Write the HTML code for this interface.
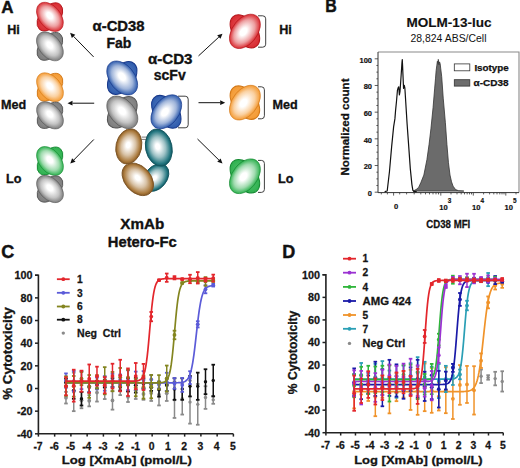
<!DOCTYPE html>
<html><head><meta charset="utf-8"><style>
html,body{margin:0;padding:0;background:#fff;width:520px;height:468px;overflow:hidden}
svg{display:block}
text{font-family:"Liberation Sans", sans-serif}
</style></head><body>
<svg width="520" height="468" viewBox="0 0 520 468">
<defs><radialGradient id="f_red" cx="50%" cy="50%" r="50%" fx="46%" fy="46%"><stop offset="0" stop-color="#fff"/><stop offset="0.22" stop-color="#fff"/><stop offset="0.68" stop-color="#ed9fa1"/><stop offset="1" stop-color="#d92a30"/></radialGradient><radialGradient id="e_red" cx="50%" cy="50%" r="50%" fx="46%" fy="46%"><stop offset="0" stop-color="#fff"/><stop offset="0.15" stop-color="#fff"/><stop offset="0.55" stop-color="#ed9fa1"/><stop offset="0.88" stop-color="#d92a30"/><stop offset="1" stop-color="#b3161c"/></radialGradient><radialGradient id="b_red" cx="50%" cy="50%" r="50%"><stop offset="0" stop-color="#e4696e"/><stop offset="1" stop-color="#d92a30"/></radialGradient><radialGradient id="f_gray" cx="50%" cy="50%" r="50%" fx="46%" fy="46%"><stop offset="0" stop-color="#fff"/><stop offset="0.22" stop-color="#fff"/><stop offset="0.68" stop-color="#c4c4c4"/><stop offset="1" stop-color="#7d7d7d"/></radialGradient><radialGradient id="e_gray" cx="50%" cy="50%" r="50%" fx="46%" fy="46%"><stop offset="0" stop-color="#fff"/><stop offset="0.15" stop-color="#fff"/><stop offset="0.55" stop-color="#c4c4c4"/><stop offset="0.88" stop-color="#7d7d7d"/><stop offset="1" stop-color="#555555"/></radialGradient><radialGradient id="b_gray" cx="50%" cy="50%" r="50%"><stop offset="0" stop-color="#a4a4a4"/><stop offset="1" stop-color="#7d7d7d"/></radialGradient><radialGradient id="f_orange" cx="50%" cy="50%" r="50%" fx="46%" fy="46%"><stop offset="0" stop-color="#fff"/><stop offset="0.22" stop-color="#fff"/><stop offset="0.68" stop-color="#fad1a2"/><stop offset="1" stop-color="#f49a32"/></radialGradient><radialGradient id="e_orange" cx="50%" cy="50%" r="50%" fx="46%" fy="46%"><stop offset="0" stop-color="#fff"/><stop offset="0.15" stop-color="#fff"/><stop offset="0.55" stop-color="#fad1a2"/><stop offset="0.88" stop-color="#f49a32"/><stop offset="1" stop-color="#d27818"/></radialGradient><radialGradient id="b_orange" cx="50%" cy="50%" r="50%"><stop offset="0" stop-color="#f7b86f"/><stop offset="1" stop-color="#f49a32"/></radialGradient><radialGradient id="f_green" cx="50%" cy="50%" r="50%" fx="46%" fy="46%"><stop offset="0" stop-color="#fff"/><stop offset="0.22" stop-color="#fff"/><stop offset="0.68" stop-color="#a0dbaf"/><stop offset="1" stop-color="#2db14e"/></radialGradient><radialGradient id="e_green" cx="50%" cy="50%" r="50%" fx="46%" fy="46%"><stop offset="0" stop-color="#fff"/><stop offset="0.15" stop-color="#fff"/><stop offset="0.55" stop-color="#a0dbaf"/><stop offset="0.88" stop-color="#2db14e"/><stop offset="1" stop-color="#178a34"/></radialGradient><radialGradient id="b_green" cx="50%" cy="50%" r="50%"><stop offset="0" stop-color="#6cc883"/><stop offset="1" stop-color="#2db14e"/></radialGradient><radialGradient id="f_blue" cx="50%" cy="50%" r="50%" fx="46%" fy="46%"><stop offset="0" stop-color="#fff"/><stop offset="0.22" stop-color="#fff"/><stop offset="0.68" stop-color="#a0b5da"/><stop offset="1" stop-color="#2d5bad"/></radialGradient><radialGradient id="e_blue" cx="50%" cy="50%" r="50%" fx="46%" fy="46%"><stop offset="0" stop-color="#fff"/><stop offset="0.15" stop-color="#fff"/><stop offset="0.55" stop-color="#a0b5da"/><stop offset="0.88" stop-color="#2d5bad"/><stop offset="1" stop-color="#18388a"/></radialGradient><radialGradient id="b_blue" cx="50%" cy="50%" r="50%"><stop offset="0" stop-color="#6c8cc5"/><stop offset="1" stop-color="#2d5bad"/></radialGradient><radialGradient id="f_brown" cx="50%" cy="50%" r="50%" fx="46%" fy="46%"><stop offset="0" stop-color="#fff"/><stop offset="0.22" stop-color="#fff"/><stop offset="0.68" stop-color="#d8c2a6"/><stop offset="1" stop-color="#a9783a"/></radialGradient><radialGradient id="e_brown" cx="50%" cy="50%" r="50%" fx="46%" fy="46%"><stop offset="0" stop-color="#fff"/><stop offset="0.15" stop-color="#fff"/><stop offset="0.55" stop-color="#d8c2a6"/><stop offset="0.88" stop-color="#a9783a"/><stop offset="1" stop-color="#7f5626"/></radialGradient><radialGradient id="b_brown" cx="50%" cy="50%" r="50%"><stop offset="0" stop-color="#c2a075"/><stop offset="1" stop-color="#a9783a"/></radialGradient><radialGradient id="f_teal" cx="50%" cy="50%" r="50%" fx="46%" fy="46%"><stop offset="0" stop-color="#fff"/><stop offset="0.22" stop-color="#fff"/><stop offset="0.68" stop-color="#9cc1c5"/><stop offset="1" stop-color="#237680"/></radialGradient><radialGradient id="e_teal" cx="50%" cy="50%" r="50%" fx="46%" fy="46%"><stop offset="0" stop-color="#fff"/><stop offset="0.15" stop-color="#fff"/><stop offset="0.55" stop-color="#9cc1c5"/><stop offset="0.88" stop-color="#237680"/><stop offset="1" stop-color="#135660"/></radialGradient><radialGradient id="b_teal" cx="50%" cy="50%" r="50%"><stop offset="0" stop-color="#659fa6"/><stop offset="1" stop-color="#237680"/></radialGradient></defs>
<rect width="520" height="468" fill="#fff"/>
<text x="1.2" y="12.6" font-size="17" font-weight="bold" text-anchor="start" fill="#111" stroke="#111" stroke-width="0.43" >A</text>
<text x="7.2" y="34.2" font-size="12.6" font-weight="bold" text-anchor="start" fill="#111" stroke="#111" stroke-width="0.32" >Hi</text>
<text x="1.0" y="108.8" font-size="12.6" font-weight="bold" text-anchor="start" fill="#111" stroke="#111" stroke-width="0.32" >Med</text>
<text x="6.0" y="182.5" font-size="12.6" font-weight="bold" text-anchor="start" fill="#111" stroke="#111" stroke-width="0.32" >Lo</text>
<text x="279.2" y="34.2" font-size="12.6" font-weight="bold" text-anchor="start" fill="#111" stroke="#111" stroke-width="0.32" >Hi</text>
<text x="272.4" y="108.9" font-size="12.6" font-weight="bold" text-anchor="start" fill="#111" stroke="#111" stroke-width="0.32" >Med</text>
<text x="278.0" y="182.5" font-size="12.6" font-weight="bold" text-anchor="start" fill="#111" stroke="#111" stroke-width="0.32" >Lo</text>
<text x="92.6" y="31.2" font-size="14" font-weight="bold" text-anchor="start" fill="#111" stroke="#111" stroke-width="0.35" textLength="52" lengthAdjust="spacingAndGlyphs" >&#945;-CD38</text>
<text x="106.5" y="48.1" font-size="14" font-weight="bold" text-anchor="start" fill="#111" stroke="#111" stroke-width="0.35" >Fab</text>
<text x="148.0" y="64.2" font-size="14" font-weight="bold" text-anchor="start" fill="#111" stroke="#111" stroke-width="0.35" textLength="44.5" lengthAdjust="spacingAndGlyphs" >&#945;-CD3</text>
<text x="153.8" y="80.4" font-size="14" font-weight="bold" text-anchor="start" fill="#111" stroke="#111" stroke-width="0.35" >scFv</text>
<text x="120.3" y="228.8" font-size="15.2" font-weight="bold" text-anchor="start" fill="#111" stroke="#111" stroke-width="0.38" >XmAb</text>
<text x="107.8" y="247.1" font-size="15.2" font-weight="bold" text-anchor="start" fill="#111" stroke="#111" stroke-width="0.38" textLength="69" lengthAdjust="spacingAndGlyphs" >Hetero-Fc</text>
<g transform="translate(49.9,16.9) scale(0.972,1.016)">
<ellipse rx="16.2" ry="10.2" transform="rotate(-48)" fill="url(#b_red)" stroke="#b3161c" stroke-width="0.9"/>
<ellipse rx="16.6" ry="11.0" transform="rotate(48)" fill="url(#f_red)" stroke="#b3161c" stroke-width="0.7" stroke-opacity="0.8"/>
</g>
<g transform="translate(49.9,46.35) scale(0.972,1.006)">
<ellipse rx="16.2" ry="10.2" transform="rotate(-48)" fill="url(#b_gray)" stroke="#555555" stroke-width="0.9"/>
<ellipse rx="16.6" ry="11.0" transform="rotate(48)" fill="url(#f_gray)" stroke="#555555" stroke-width="0.7" stroke-opacity="0.8"/>
</g>
<g transform="translate(50.0,87.25) scale(0.972,1.006)">
<ellipse rx="16.2" ry="10.2" transform="rotate(-48)" fill="url(#b_orange)" stroke="#d27818" stroke-width="0.9"/>
<ellipse rx="16.6" ry="11.0" transform="rotate(48)" fill="url(#f_orange)" stroke="#d27818" stroke-width="0.7" stroke-opacity="0.8"/>
</g>
<g transform="translate(50.0,115.3) scale(0.972,0.947)">
<ellipse rx="16.2" ry="10.2" transform="rotate(-48)" fill="url(#b_gray)" stroke="#555555" stroke-width="0.9"/>
<ellipse rx="16.6" ry="11.0" transform="rotate(48)" fill="url(#f_gray)" stroke="#555555" stroke-width="0.7" stroke-opacity="0.8"/>
</g>
<g transform="translate(50.0,161.0) scale(0.972,1.006)">
<ellipse rx="16.2" ry="10.2" transform="rotate(-48)" fill="url(#b_green)" stroke="#178a34" stroke-width="0.9"/>
<ellipse rx="16.6" ry="11.0" transform="rotate(48)" fill="url(#f_green)" stroke="#178a34" stroke-width="0.7" stroke-opacity="0.8"/>
</g>
<g transform="translate(50.0,189.0) scale(0.972,0.947)">
<ellipse rx="16.2" ry="10.2" transform="rotate(-48)" fill="url(#b_gray)" stroke="#555555" stroke-width="0.9"/>
<ellipse rx="16.6" ry="11.0" transform="rotate(48)" fill="url(#f_gray)" stroke="#555555" stroke-width="0.7" stroke-opacity="0.8"/>
</g>
<line x1="93.6" y1="56.9" x2="73.59" y2="36.38" stroke="#111" stroke-width="1"/>
<polygon points="70.1,32.8 75.31,34.70 71.87,38.06" fill="#111"/>
<line x1="94.2" y1="103.2" x2="72.50" y2="103.20" stroke="#111" stroke-width="1"/>
<polygon points="67.5,103.2 72.50,100.80 72.50,105.60" fill="#111"/>
<line x1="93.8" y1="139.5" x2="73.79" y2="160.02" stroke="#111" stroke-width="1"/>
<polygon points="70.3,163.6 72.07,158.34 75.51,161.70" fill="#111"/>
<line x1="198.5" y1="55.9" x2="218.83" y2="37.10" stroke="#111" stroke-width="1"/>
<polygon points="222.5,33.7 220.46,38.86 217.20,35.33" fill="#111"/>
<line x1="198.5" y1="102.7" x2="220.20" y2="102.70" stroke="#111" stroke-width="1"/>
<polygon points="225.2,102.7 220.20,105.10 220.20,100.30" fill="#111"/>
<line x1="197.5" y1="139" x2="218.94" y2="160.09" stroke="#111" stroke-width="1"/>
<polygon points="222.5,163.6 217.25,161.80 220.62,158.38" fill="#111"/>
<ellipse cx="0" cy="0" rx="15.5" ry="11" transform="translate(155.8,177.6) rotate(-50)" fill="url(#e_teal)" stroke="#135660" stroke-width="0.9"/>
<ellipse cx="0" cy="0" rx="18.5" ry="13" transform="translate(137.8,179.3) rotate(48)" fill="url(#e_brown)" stroke="#7f5626" stroke-width="0.9"/>
<ellipse cx="0" cy="0" rx="13.2" ry="18.8" transform="translate(158.8,147.6) rotate(-12)" fill="url(#e_teal)" stroke="#135660" stroke-width="0.9"/>
<ellipse cx="0" cy="0" rx="12.8" ry="17.8" transform="translate(128.8,146.4) rotate(12)" fill="url(#e_brown)" stroke="#7f5626" stroke-width="0.9"/>
<line x1="141.5" y1="137.1" x2="146.4" y2="137.1" stroke="#444" stroke-width="0.7"/>
<line x1="141.5" y1="139.4" x2="146.4" y2="139.4" stroke="#444" stroke-width="0.7"/>
<g transform="translate(122.3,112.3) scale(1.124,1.131)">
<ellipse rx="16.2" ry="10.2" transform="rotate(-48)" fill="url(#b_gray)" stroke="#555555" stroke-width="0.9"/>
<ellipse rx="16.6" ry="11.0" transform="rotate(48)" fill="url(#f_gray)" stroke="#555555" stroke-width="0.7" stroke-opacity="0.8"/>
</g>
<g transform="translate(122.2,78.0) scale(1.117,1.183)">
<ellipse rx="16.2" ry="10.2" transform="rotate(-48)" fill="url(#b_blue)" stroke="#18388a" stroke-width="0.9"/>
<ellipse rx="16.6" ry="11.0" transform="rotate(48)" fill="url(#f_blue)" stroke="#18388a" stroke-width="0.7" stroke-opacity="0.8"/>
</g>
<path d="M178,96.2 L185.2,96.2 Q188.2,96.2 188.2,99.2 L188.2,124.8 Q188.2,127.8 185.2,127.8 L178,127.8" fill="none" stroke="#2a2a2a" stroke-width="0.9"/>
<g transform="translate(166.3,111.8) scale(1.113,1.183)">
<ellipse rx="16.2" ry="10.2" transform="rotate(48)" fill="url(#b_blue)" stroke="#18388a" stroke-width="0.9"/>
<ellipse rx="16.6" ry="11.0" transform="rotate(-48)" fill="url(#f_blue)" stroke="#18388a" stroke-width="0.7" stroke-opacity="0.8"/>
</g>
<path d="M258,15.8 L262.7,15.8 Q265.7,15.8 265.7,18.8 L265.7,44.2 Q265.7,47.2 262.7,47.2 L258,47.2" fill="none" stroke="#2a2a2a" stroke-width="0.9"/>
<g transform="translate(244.9,31.35) scale(1.117,1.194)">
<ellipse rx="16.2" ry="10.2" transform="rotate(48)" fill="url(#b_red)" stroke="#b3161c" stroke-width="0.9"/>
<ellipse rx="16.6" ry="11.0" transform="rotate(-48)" fill="url(#f_red)" stroke="#b3161c" stroke-width="0.7" stroke-opacity="0.8"/>
</g>
<path d="M258,86.8 L261.4,86.8 Q264.4,86.8 264.4,89.8 L264.4,115.8 Q264.4,118.8 261.4,118.8 L258,118.8" fill="none" stroke="#2a2a2a" stroke-width="0.9"/>
<g transform="translate(244.9,102.65) scale(1.117,1.208)">
<ellipse rx="16.2" ry="10.2" transform="rotate(48)" fill="url(#b_orange)" stroke="#d27818" stroke-width="0.9"/>
<ellipse rx="16.6" ry="11.0" transform="rotate(-48)" fill="url(#f_orange)" stroke="#d27818" stroke-width="0.7" stroke-opacity="0.8"/>
</g>
<path d="M258,160.4 L261.4,160.4 Q264.4,160.4 264.4,163.4 L264.4,189.4 Q264.4,192.4 261.4,192.4 L258,192.4" fill="none" stroke="#2a2a2a" stroke-width="0.9"/>
<g transform="translate(244.9,176.25) scale(1.117,1.208)">
<ellipse rx="16.2" ry="10.2" transform="rotate(48)" fill="url(#b_green)" stroke="#178a34" stroke-width="0.9"/>
<ellipse rx="16.6" ry="11.0" transform="rotate(-48)" fill="url(#f_green)" stroke="#178a34" stroke-width="0.7" stroke-opacity="0.8"/>
</g>
<text x="325.2" y="12.2" font-size="17.5" font-weight="bold" text-anchor="start" fill="#111" stroke="#111" stroke-width="0.44" textLength="11.5" lengthAdjust="spacingAndGlyphs" >B</text>
<text x="406.5" y="27.3" font-size="13.5" font-weight="bold" text-anchor="start" fill="#111" stroke="#111" stroke-width="0.15" textLength="85" lengthAdjust="spacingAndGlyphs" >MOLM-13-luc</text>
<text x="410.5" y="41.8" font-size="11" font-weight="normal" text-anchor="start" fill="#111" textLength="76" lengthAdjust="spacingAndGlyphs" >28,824 ABS/Cell</text>
<path d="M378,52 L519,52 L519,192.6" fill="none" stroke="#8a8a8a" stroke-width="1.1"/>
<path d="M378,52 L378,192.6 L519,192.6" fill="none" stroke="#333" stroke-width="1"/>
<line x1="374.7" y1="192.20" x2="378" y2="192.20" stroke="#333" stroke-width="0.8"/>
<text x="372.0" y="195.89999999999998" font-size="7.5" font-weight="bold" text-anchor="end" fill="#111" stroke="#111" stroke-width="0.19" >0</text>
<line x1="376.4" y1="185.53" x2="378" y2="185.53" stroke="#333" stroke-width="0.8"/>
<line x1="376.4" y1="178.86" x2="378" y2="178.86" stroke="#333" stroke-width="0.8"/>
<line x1="376.4" y1="172.19" x2="378" y2="172.19" stroke="#333" stroke-width="0.8"/>
<line x1="374.7" y1="165.52" x2="378" y2="165.52" stroke="#333" stroke-width="0.8"/>
<text x="372.0" y="169.21999999999997" font-size="7.5" font-weight="bold" text-anchor="end" fill="#111" stroke="#111" stroke-width="0.19" >20</text>
<line x1="376.4" y1="158.85" x2="378" y2="158.85" stroke="#333" stroke-width="0.8"/>
<line x1="376.4" y1="152.18" x2="378" y2="152.18" stroke="#333" stroke-width="0.8"/>
<line x1="376.4" y1="145.51" x2="378" y2="145.51" stroke="#333" stroke-width="0.8"/>
<line x1="374.7" y1="138.84" x2="378" y2="138.84" stroke="#333" stroke-width="0.8"/>
<text x="372.0" y="142.54" font-size="7.5" font-weight="bold" text-anchor="end" fill="#111" stroke="#111" stroke-width="0.19" >40</text>
<line x1="376.4" y1="132.17" x2="378" y2="132.17" stroke="#333" stroke-width="0.8"/>
<line x1="376.4" y1="125.50" x2="378" y2="125.50" stroke="#333" stroke-width="0.8"/>
<line x1="376.4" y1="118.83" x2="378" y2="118.83" stroke="#333" stroke-width="0.8"/>
<line x1="374.7" y1="112.16" x2="378" y2="112.16" stroke="#333" stroke-width="0.8"/>
<text x="372.0" y="115.86" font-size="7.5" font-weight="bold" text-anchor="end" fill="#111" stroke="#111" stroke-width="0.19" >60</text>
<line x1="376.4" y1="105.49" x2="378" y2="105.49" stroke="#333" stroke-width="0.8"/>
<line x1="376.4" y1="98.82" x2="378" y2="98.82" stroke="#333" stroke-width="0.8"/>
<line x1="376.4" y1="92.15" x2="378" y2="92.15" stroke="#333" stroke-width="0.8"/>
<line x1="374.7" y1="85.48" x2="378" y2="85.48" stroke="#333" stroke-width="0.8"/>
<text x="372.0" y="89.18" font-size="7.5" font-weight="bold" text-anchor="end" fill="#111" stroke="#111" stroke-width="0.19" >80</text>
<line x1="376.4" y1="78.81" x2="378" y2="78.81" stroke="#333" stroke-width="0.8"/>
<line x1="376.4" y1="72.14" x2="378" y2="72.14" stroke="#333" stroke-width="0.8"/>
<line x1="376.4" y1="65.47" x2="378" y2="65.47" stroke="#333" stroke-width="0.8"/>
<line x1="374.7" y1="58.80" x2="378" y2="58.80" stroke="#333" stroke-width="0.8"/>
<text x="372.0" y="62.500000000000014" font-size="7.5" font-weight="bold" text-anchor="end" fill="#111" stroke="#111" stroke-width="0.19" >100</text>
<text x="349.2" y="175.5" font-size="11" font-weight="bold" text-anchor="start" fill="#111" stroke="#111" stroke-width="0.28" textLength="97" lengthAdjust="spacingAndGlyphs" transform="rotate(-90 349.2 175.5)">Normalized count</text>
<line x1="381.3" y1="192.6" x2="381.3" y2="194.4" stroke="#333" stroke-width="0.8"/>
<line x1="387.4" y1="192.6" x2="387.4" y2="194.4" stroke="#333" stroke-width="0.8"/>
<line x1="393.6" y1="192.6" x2="393.6" y2="195.6" stroke="#333" stroke-width="0.8"/>
<line x1="399.7" y1="192.6" x2="399.7" y2="194.4" stroke="#333" stroke-width="0.8"/>
<line x1="406.6" y1="192.6" x2="406.6" y2="194.4" stroke="#333" stroke-width="0.8"/>
<line x1="414.2" y1="192.6" x2="414.2" y2="194.4" stroke="#333" stroke-width="0.8"/>
<line x1="420.8" y1="192.6" x2="420.8" y2="194.4" stroke="#333" stroke-width="0.8"/>
<line x1="425.5" y1="192.6" x2="425.5" y2="194.4" stroke="#333" stroke-width="0.8"/>
<line x1="429.5" y1="192.6" x2="429.5" y2="194.4" stroke="#333" stroke-width="0.8"/>
<line x1="433" y1="192.6" x2="433" y2="194.4" stroke="#333" stroke-width="0.8"/>
<line x1="436" y1="192.6" x2="436" y2="194.4" stroke="#333" stroke-width="0.8"/>
<line x1="438.5" y1="192.6" x2="438.5" y2="194.4" stroke="#333" stroke-width="0.8"/>
<line x1="440.8" y1="192.6" x2="440.8" y2="195.6" stroke="#333" stroke-width="0.8"/>
<line x1="451" y1="192.6" x2="451" y2="194.4" stroke="#333" stroke-width="0.8"/>
<line x1="457" y1="192.6" x2="457" y2="194.4" stroke="#333" stroke-width="0.8"/>
<line x1="461.2" y1="192.6" x2="461.2" y2="194.4" stroke="#333" stroke-width="0.8"/>
<line x1="464.5" y1="192.6" x2="464.5" y2="194.4" stroke="#333" stroke-width="0.8"/>
<line x1="467.2" y1="192.6" x2="467.2" y2="194.4" stroke="#333" stroke-width="0.8"/>
<line x1="469.5" y1="192.6" x2="469.5" y2="194.4" stroke="#333" stroke-width="0.8"/>
<line x1="471.5" y1="192.6" x2="471.5" y2="194.4" stroke="#333" stroke-width="0.8"/>
<line x1="473.3" y1="192.6" x2="473.3" y2="195.6" stroke="#333" stroke-width="0.8"/>
<line x1="483.6" y1="192.6" x2="483.6" y2="194.4" stroke="#333" stroke-width="0.8"/>
<line x1="489.6" y1="192.6" x2="489.6" y2="194.4" stroke="#333" stroke-width="0.8"/>
<line x1="493.8" y1="192.6" x2="493.8" y2="194.4" stroke="#333" stroke-width="0.8"/>
<line x1="497" y1="192.6" x2="497" y2="194.4" stroke="#333" stroke-width="0.8"/>
<line x1="499.8" y1="192.6" x2="499.8" y2="194.4" stroke="#333" stroke-width="0.8"/>
<line x1="502" y1="192.6" x2="502" y2="194.4" stroke="#333" stroke-width="0.8"/>
<line x1="504" y1="192.6" x2="504" y2="194.4" stroke="#333" stroke-width="0.8"/>
<line x1="505.8" y1="192.6" x2="505.8" y2="195.6" stroke="#333" stroke-width="0.8"/>
<line x1="516" y1="192.6" x2="516" y2="194.4" stroke="#333" stroke-width="0.8"/>
<text x="396.2" y="209.4" font-size="7.6" font-weight="bold" text-anchor="middle" fill="#111" stroke="#111" stroke-width="0.19" >0</text>
<text x="443.5" y="209.8" font-size="7.6" font-weight="bold" text-anchor="middle" fill="#111" stroke="#111" stroke-width="0.19" >10</text>
<text x="449.5" y="203.2" font-size="6.4" font-weight="bold" text-anchor="middle" fill="#111" stroke="#111" stroke-width="0.16" >3</text>
<text x="476.3" y="209.8" font-size="7.6" font-weight="bold" text-anchor="middle" fill="#111" stroke="#111" stroke-width="0.19" >10</text>
<text x="482.3" y="203.2" font-size="6.4" font-weight="bold" text-anchor="middle" fill="#111" stroke="#111" stroke-width="0.16" >4</text>
<text x="508.8" y="209.8" font-size="7.6" font-weight="bold" text-anchor="middle" fill="#111" stroke="#111" stroke-width="0.19" >10</text>
<text x="514.8" y="203.2" font-size="6.4" font-weight="bold" text-anchor="middle" fill="#111" stroke="#111" stroke-width="0.16" >5</text>
<text x="426.3" y="227.7" font-size="10.6" font-weight="bold" text-anchor="start" fill="#111" stroke="#111" stroke-width="0.27" textLength="44" lengthAdjust="spacingAndGlyphs" >CD38 MFI</text>
<rect x="454.3" y="63.9" width="15.5" height="6.9" fill="#fff" stroke="#333" stroke-width="0.8"/>
<rect x="454.3" y="79.7" width="15.5" height="6.4" fill="#6d6d6d" stroke="#333" stroke-width="0.8"/>
<text x="474.4" y="70.8" font-size="9.8" font-weight="bold" text-anchor="start" fill="#111" stroke="#111" stroke-width="0.25" textLength="34.4" lengthAdjust="spacingAndGlyphs" >Isotype</text>
<text x="473.5" y="86.2" font-size="9.8" font-weight="bold" text-anchor="start" fill="#111" stroke="#111" stroke-width="0.25" textLength="35" lengthAdjust="spacingAndGlyphs" >&#945;-CD38</text>
<polygon points="413.08,191.08 416.15,189.54 418.62,187.38 420.77,182.77 423.85,175.08 426.92,159.69 429.08,144.31 430.92,128.92 433.08,107.38 434.62,88.92 435.54,78.15 436.15,70.46 436.77,65.85 437.38,61.23 438.00,63.69 438.31,59.38 438.92,64.92 439.54,61.85 440.15,63.69 440.77,68.92 441.69,76.62 443.23,98.15 445.38,122.77 446.92,144.31 448.46,162.77 450.00,175.08 451.54,181.85 453.08,186.15 455.54,189.54 458.62,190.77 463.85,191.08" fill="#6b6b6b" stroke="#333" stroke-width="0.8" stroke-linejoin="round"/>
<polyline points="384.63,191.67 387.20,191.03 389.44,171.79 391.69,146.15 393.61,126.92 394.90,118.91 395.54,110.90 396.50,101.28 397.47,90.06 398.11,87.82 398.75,86.86 399.39,94.87 400.03,91.03 400.68,82.05 401.32,72.44 401.96,62.82 402.28,59.62 402.60,66.03 402.92,74.04 403.56,88.46 404.21,85.26 404.85,87.82 405.49,98.08 407.09,123.72 408.70,146.15 410.30,168.59 411.91,184.62 412.87,190.38 414.16,191.67 416.72,191.67" fill="none" stroke="#111" stroke-width="1.2" stroke-linejoin="round"/>
<text x="1.2" y="257.9" font-size="18" font-weight="bold" text-anchor="start" fill="#111" stroke="#111" stroke-width="0.45" >C</text>
<path d="M35.0,275.21 L38.4,275.21 L38.4,433.81 L233.40,433.81" fill="none" stroke="#222" stroke-width="1.6"/>
<line x1="35.0" y1="433.81" x2="38.4" y2="433.81" stroke="#222" stroke-width="1.5"/>
<text x="32.5" y="437.71428571428567" font-size="10.8" font-weight="bold" text-anchor="end" fill="#151515" stroke="#151515" stroke-width="0.27" >-40</text>
<line x1="35.0" y1="411.16" x2="38.4" y2="411.16" stroke="#222" stroke-width="1.5"/>
<text x="32.5" y="415.0571428571428" font-size="10.8" font-weight="bold" text-anchor="end" fill="#151515" stroke="#151515" stroke-width="0.27" >-20</text>
<line x1="35.0" y1="388.50" x2="38.4" y2="388.50" stroke="#222" stroke-width="1.5"/>
<text x="32.5" y="392.4" font-size="10.8" font-weight="bold" text-anchor="end" fill="#151515" stroke="#151515" stroke-width="0.27" >0</text>
<line x1="35.0" y1="365.84" x2="38.4" y2="365.84" stroke="#222" stroke-width="1.5"/>
<text x="32.5" y="369.74285714285713" font-size="10.8" font-weight="bold" text-anchor="end" fill="#151515" stroke="#151515" stroke-width="0.27" >20</text>
<line x1="35.0" y1="343.19" x2="38.4" y2="343.19" stroke="#222" stroke-width="1.5"/>
<text x="32.5" y="347.0857142857143" font-size="10.8" font-weight="bold" text-anchor="end" fill="#151515" stroke="#151515" stroke-width="0.27" >40</text>
<line x1="35.0" y1="320.53" x2="38.4" y2="320.53" stroke="#222" stroke-width="1.5"/>
<text x="32.5" y="324.4285714285714" font-size="10.8" font-weight="bold" text-anchor="end" fill="#151515" stroke="#151515" stroke-width="0.27" >60</text>
<line x1="35.0" y1="297.87" x2="38.4" y2="297.87" stroke="#222" stroke-width="1.5"/>
<text x="32.5" y="301.77142857142854" font-size="10.8" font-weight="bold" text-anchor="end" fill="#151515" stroke="#151515" stroke-width="0.27" >80</text>
<line x1="35.0" y1="275.21" x2="38.4" y2="275.21" stroke="#222" stroke-width="1.5"/>
<text x="32.5" y="279.11428571428564" font-size="10.8" font-weight="bold" text-anchor="end" fill="#151515" stroke="#151515" stroke-width="0.27" >100</text>
<line x1="38.40" y1="433.81" x2="38.40" y2="436.61" stroke="#222" stroke-width="1.5"/>
<text x="38.0" y="449.8142857142857" font-size="10.4" font-weight="bold" text-anchor="middle" fill="#151515" stroke="#151515" stroke-width="0.26" >-7</text>
<line x1="54.65" y1="433.81" x2="54.65" y2="436.61" stroke="#222" stroke-width="1.5"/>
<text x="54.25" y="449.8142857142857" font-size="10.4" font-weight="bold" text-anchor="middle" fill="#151515" stroke="#151515" stroke-width="0.26" >-6</text>
<line x1="70.90" y1="433.81" x2="70.90" y2="436.61" stroke="#222" stroke-width="1.5"/>
<text x="70.5" y="449.8142857142857" font-size="10.4" font-weight="bold" text-anchor="middle" fill="#151515" stroke="#151515" stroke-width="0.26" >-5</text>
<line x1="87.15" y1="433.81" x2="87.15" y2="436.61" stroke="#222" stroke-width="1.5"/>
<text x="86.75" y="449.8142857142857" font-size="10.4" font-weight="bold" text-anchor="middle" fill="#151515" stroke="#151515" stroke-width="0.26" >-4</text>
<line x1="103.40" y1="433.81" x2="103.40" y2="436.61" stroke="#222" stroke-width="1.5"/>
<text x="103.0" y="449.8142857142857" font-size="10.4" font-weight="bold" text-anchor="middle" fill="#151515" stroke="#151515" stroke-width="0.26" >-3</text>
<line x1="119.65" y1="433.81" x2="119.65" y2="436.61" stroke="#222" stroke-width="1.5"/>
<text x="119.25" y="449.8142857142857" font-size="10.4" font-weight="bold" text-anchor="middle" fill="#151515" stroke="#151515" stroke-width="0.26" >-2</text>
<line x1="135.90" y1="433.81" x2="135.90" y2="436.61" stroke="#222" stroke-width="1.5"/>
<text x="135.5" y="449.8142857142857" font-size="10.4" font-weight="bold" text-anchor="middle" fill="#151515" stroke="#151515" stroke-width="0.26" >-1</text>
<line x1="152.15" y1="433.81" x2="152.15" y2="436.61" stroke="#222" stroke-width="1.5"/>
<text x="151.75" y="449.8142857142857" font-size="10.4" font-weight="bold" text-anchor="middle" fill="#151515" stroke="#151515" stroke-width="0.26" >0</text>
<line x1="168.40" y1="433.81" x2="168.40" y2="436.61" stroke="#222" stroke-width="1.5"/>
<text x="168.0" y="449.8142857142857" font-size="10.4" font-weight="bold" text-anchor="middle" fill="#151515" stroke="#151515" stroke-width="0.26" >1</text>
<line x1="184.65" y1="433.81" x2="184.65" y2="436.61" stroke="#222" stroke-width="1.5"/>
<text x="184.25" y="449.8142857142857" font-size="10.4" font-weight="bold" text-anchor="middle" fill="#151515" stroke="#151515" stroke-width="0.26" >2</text>
<line x1="200.90" y1="433.81" x2="200.90" y2="436.61" stroke="#222" stroke-width="1.5"/>
<text x="200.5" y="449.8142857142857" font-size="10.4" font-weight="bold" text-anchor="middle" fill="#151515" stroke="#151515" stroke-width="0.26" >3</text>
<line x1="217.15" y1="433.81" x2="217.15" y2="436.61" stroke="#222" stroke-width="1.5"/>
<text x="216.75" y="449.8142857142857" font-size="10.4" font-weight="bold" text-anchor="middle" fill="#151515" stroke="#151515" stroke-width="0.26" >4</text>
<line x1="233.40" y1="433.81" x2="233.40" y2="436.61" stroke="#222" stroke-width="1.5"/>
<text x="233.0" y="449.8142857142857" font-size="10.4" font-weight="bold" text-anchor="middle" fill="#151515" stroke="#151515" stroke-width="0.26" >5</text>
<text x="61.8" y="464.3" font-size="11.3" font-weight="bold" text-anchor="start" fill="#151515" stroke="#151515" stroke-width="0.28" textLength="130" lengthAdjust="spacingAndGlyphs" >Log [XmAb] (pmol/L)</text>
<text x="11.6" y="399.8" font-size="13.0" font-weight="bold" text-anchor="start" fill="#151515" stroke="#151515" stroke-width="0.33" textLength="92.5" lengthAdjust="spacingAndGlyphs" transform="rotate(-90 11.6 399.8)">% Cytotoxicity</text>
<line x1="56.9" y1="279.2" x2="69.7" y2="279.2" stroke="#e3262c" stroke-width="1.8"/>
<circle cx="63.3" cy="279.2" r="1.9" fill="#e3262c"/>
<text x="77.0" y="282.9" font-size="10.2" font-weight="bold" text-anchor="start" fill="#151515" stroke="#151515" stroke-width="0.26" >1</text>
<line x1="56.9" y1="292.8" x2="69.7" y2="292.8" stroke="#5b5bd8" stroke-width="1.8"/>
<circle cx="63.3" cy="292.8" r="1.9" fill="#5b5bd8"/>
<text x="77.0" y="296.5" font-size="10.2" font-weight="bold" text-anchor="start" fill="#151515" stroke="#151515" stroke-width="0.26" >3</text>
<line x1="56.9" y1="306.5" x2="69.7" y2="306.5" stroke="#83851f" stroke-width="1.8"/>
<circle cx="63.3" cy="306.5" r="1.9" fill="#83851f"/>
<text x="77.0" y="310.2" font-size="10.2" font-weight="bold" text-anchor="start" fill="#151515" stroke="#151515" stroke-width="0.26" >6</text>
<line x1="56.9" y1="319.7" x2="69.7" y2="319.7" stroke="#111111" stroke-width="1.8"/>
<circle cx="63.3" cy="319.7" r="1.9" fill="#111111"/>
<text x="77.0" y="323.4" font-size="10.2" font-weight="bold" text-anchor="start" fill="#151515" stroke="#151515" stroke-width="0.26" >8</text>
<circle cx="63.3" cy="333.1" r="1.7" fill="#8a8a8a"/>
<text x="77.0" y="336.8" font-size="10.2" font-weight="bold" text-anchor="start" fill="#151515" stroke="#151515" stroke-width="0.26" textLength="44" lengthAdjust="spacingAndGlyphs" >Neg&#160;&#160;Ctrl</text>
<line x1="213.25" y1="395.86" x2="213.25" y2="403.79" stroke="#8a8a8a" stroke-width="1.5"/>
<line x1="211.45" y1="395.86" x2="215.05" y2="395.86" stroke="#8a8a8a" stroke-width="1.8"/>
<line x1="211.45" y1="403.79" x2="215.05" y2="403.79" stroke="#8a8a8a" stroke-width="1.8"/>
<circle cx="213.25" cy="399.83" r="1.7" fill="#8a8a8a"/>
<line x1="205.50" y1="386.23" x2="205.50" y2="408.89" stroke="#8a8a8a" stroke-width="1.5"/>
<line x1="203.70" y1="386.23" x2="207.30" y2="386.23" stroke="#8a8a8a" stroke-width="1.8"/>
<line x1="203.70" y1="408.89" x2="207.30" y2="408.89" stroke="#8a8a8a" stroke-width="1.8"/>
<circle cx="205.50" cy="397.56" r="1.7" fill="#8a8a8a"/>
<line x1="197.75" y1="383.97" x2="197.75" y2="424.75" stroke="#8a8a8a" stroke-width="1.5"/>
<line x1="195.95" y1="383.97" x2="199.55" y2="383.97" stroke="#8a8a8a" stroke-width="1.8"/>
<line x1="195.95" y1="424.75" x2="199.55" y2="424.75" stroke="#8a8a8a" stroke-width="1.8"/>
<circle cx="197.75" cy="404.36" r="1.7" fill="#8a8a8a"/>
<line x1="190.00" y1="380.57" x2="190.00" y2="423.62" stroke="#8a8a8a" stroke-width="1.5"/>
<line x1="188.20" y1="380.57" x2="191.80" y2="380.57" stroke="#8a8a8a" stroke-width="1.8"/>
<line x1="188.20" y1="423.62" x2="191.80" y2="423.62" stroke="#8a8a8a" stroke-width="1.8"/>
<circle cx="190.00" cy="402.09" r="1.7" fill="#8a8a8a"/>
<line x1="182.25" y1="382.84" x2="182.25" y2="414.56" stroke="#8a8a8a" stroke-width="1.5"/>
<line x1="180.44" y1="382.84" x2="184.05" y2="382.84" stroke="#8a8a8a" stroke-width="1.8"/>
<line x1="180.44" y1="414.56" x2="184.05" y2="414.56" stroke="#8a8a8a" stroke-width="1.8"/>
<circle cx="182.25" cy="398.70" r="1.7" fill="#8a8a8a"/>
<line x1="174.49" y1="381.70" x2="174.49" y2="417.95" stroke="#8a8a8a" stroke-width="1.5"/>
<line x1="172.69" y1="381.70" x2="176.29" y2="381.70" stroke="#8a8a8a" stroke-width="1.8"/>
<line x1="172.69" y1="417.95" x2="176.29" y2="417.95" stroke="#8a8a8a" stroke-width="1.8"/>
<circle cx="174.49" cy="399.83" r="1.7" fill="#8a8a8a"/>
<line x1="166.74" y1="385.75" x2="166.74" y2="400.96" stroke="#8a8a8a" stroke-width="1.5"/>
<line x1="164.94" y1="385.75" x2="168.54" y2="385.75" stroke="#8a8a8a" stroke-width="1.8"/>
<line x1="164.94" y1="400.96" x2="168.54" y2="400.96" stroke="#8a8a8a" stroke-width="1.8"/>
<circle cx="166.74" cy="393.35" r="1.9" fill="#8a8a8a"/>
<line x1="158.99" y1="383.82" x2="158.99" y2="405.44" stroke="#8a8a8a" stroke-width="1.5"/>
<line x1="157.19" y1="383.82" x2="160.79" y2="383.82" stroke="#8a8a8a" stroke-width="1.8"/>
<line x1="157.19" y1="405.44" x2="160.79" y2="405.44" stroke="#8a8a8a" stroke-width="1.8"/>
<circle cx="158.99" cy="394.63" r="1.9" fill="#8a8a8a"/>
<line x1="151.24" y1="384.99" x2="151.24" y2="400.96" stroke="#8a8a8a" stroke-width="1.5"/>
<line x1="149.44" y1="384.99" x2="153.04" y2="384.99" stroke="#8a8a8a" stroke-width="1.8"/>
<line x1="149.44" y1="400.96" x2="153.04" y2="400.96" stroke="#8a8a8a" stroke-width="1.8"/>
<circle cx="151.24" cy="392.98" r="1.9" fill="#8a8a8a"/>
<line x1="143.49" y1="388.22" x2="143.49" y2="399.79" stroke="#8a8a8a" stroke-width="1.5"/>
<line x1="141.69" y1="388.22" x2="145.29" y2="388.22" stroke="#8a8a8a" stroke-width="1.8"/>
<line x1="141.69" y1="399.79" x2="145.29" y2="399.79" stroke="#8a8a8a" stroke-width="1.8"/>
<circle cx="143.49" cy="394.00" r="1.9" fill="#8a8a8a"/>
<line x1="135.74" y1="381.37" x2="135.74" y2="398.99" stroke="#8a8a8a" stroke-width="1.5"/>
<line x1="133.94" y1="381.37" x2="137.54" y2="381.37" stroke="#8a8a8a" stroke-width="1.8"/>
<line x1="133.94" y1="398.99" x2="137.54" y2="398.99" stroke="#8a8a8a" stroke-width="1.8"/>
<circle cx="135.74" cy="390.18" r="1.9" fill="#8a8a8a"/>
<line x1="127.99" y1="391.67" x2="127.99" y2="402.01" stroke="#8a8a8a" stroke-width="1.5"/>
<line x1="126.19" y1="391.67" x2="129.79" y2="391.67" stroke="#8a8a8a" stroke-width="1.8"/>
<line x1="126.19" y1="402.01" x2="129.79" y2="402.01" stroke="#8a8a8a" stroke-width="1.8"/>
<circle cx="127.99" cy="396.84" r="1.9" fill="#8a8a8a"/>
<line x1="120.23" y1="384.81" x2="120.23" y2="395.10" stroke="#8a8a8a" stroke-width="1.5"/>
<line x1="118.43" y1="384.81" x2="122.03" y2="384.81" stroke="#8a8a8a" stroke-width="1.8"/>
<line x1="118.43" y1="395.10" x2="122.03" y2="395.10" stroke="#8a8a8a" stroke-width="1.8"/>
<circle cx="120.23" cy="389.95" r="1.9" fill="#8a8a8a"/>
<line x1="112.48" y1="391.15" x2="112.48" y2="409.64" stroke="#8a8a8a" stroke-width="1.5"/>
<line x1="110.68" y1="391.15" x2="114.28" y2="391.15" stroke="#8a8a8a" stroke-width="1.8"/>
<line x1="110.68" y1="409.64" x2="114.28" y2="409.64" stroke="#8a8a8a" stroke-width="1.8"/>
<circle cx="112.48" cy="400.39" r="1.9" fill="#8a8a8a"/>
<line x1="104.73" y1="376.64" x2="104.73" y2="399.05" stroke="#8a8a8a" stroke-width="1.5"/>
<line x1="102.93" y1="376.64" x2="106.53" y2="376.64" stroke="#8a8a8a" stroke-width="1.8"/>
<line x1="102.93" y1="399.05" x2="106.53" y2="399.05" stroke="#8a8a8a" stroke-width="1.8"/>
<circle cx="104.73" cy="387.85" r="1.9" fill="#8a8a8a"/>
<line x1="96.98" y1="383.62" x2="96.98" y2="401.57" stroke="#8a8a8a" stroke-width="1.5"/>
<line x1="95.18" y1="383.62" x2="98.78" y2="383.62" stroke="#8a8a8a" stroke-width="1.8"/>
<line x1="95.18" y1="401.57" x2="98.78" y2="401.57" stroke="#8a8a8a" stroke-width="1.8"/>
<circle cx="96.98" cy="392.59" r="1.9" fill="#8a8a8a"/>
<line x1="89.23" y1="395.16" x2="89.23" y2="406.36" stroke="#8a8a8a" stroke-width="1.5"/>
<line x1="87.43" y1="395.16" x2="91.03" y2="395.16" stroke="#8a8a8a" stroke-width="1.8"/>
<line x1="87.43" y1="406.36" x2="91.03" y2="406.36" stroke="#8a8a8a" stroke-width="1.8"/>
<circle cx="89.23" cy="400.76" r="1.9" fill="#8a8a8a"/>
<line x1="81.48" y1="392.03" x2="81.48" y2="408.27" stroke="#8a8a8a" stroke-width="1.5"/>
<line x1="79.68" y1="392.03" x2="83.28" y2="392.03" stroke="#8a8a8a" stroke-width="1.8"/>
<line x1="79.68" y1="408.27" x2="83.28" y2="408.27" stroke="#8a8a8a" stroke-width="1.8"/>
<circle cx="81.48" cy="400.15" r="1.9" fill="#8a8a8a"/>
<line x1="73.73" y1="372.64" x2="73.73" y2="411.16" stroke="#8a8a8a" stroke-width="1.5"/>
<line x1="71.93" y1="372.64" x2="75.53" y2="372.64" stroke="#8a8a8a" stroke-width="1.8"/>
<line x1="71.93" y1="411.16" x2="75.53" y2="411.16" stroke="#8a8a8a" stroke-width="1.8"/>
<circle cx="73.73" cy="391.90" r="1.7" fill="#8a8a8a"/>
<line x1="65.98" y1="391.85" x2="65.98" y2="403.50" stroke="#8a8a8a" stroke-width="1.5"/>
<line x1="64.18" y1="391.85" x2="67.78" y2="391.85" stroke="#8a8a8a" stroke-width="1.8"/>
<line x1="64.18" y1="403.50" x2="67.78" y2="403.50" stroke="#8a8a8a" stroke-width="1.8"/>
<circle cx="65.98" cy="397.67" r="1.9" fill="#8a8a8a"/>
<line x1="213.25" y1="364.71" x2="213.25" y2="396.43" stroke="#111111" stroke-width="1.5"/>
<line x1="211.45" y1="364.71" x2="215.05" y2="364.71" stroke="#111111" stroke-width="1.8"/>
<line x1="211.45" y1="396.43" x2="215.05" y2="396.43" stroke="#111111" stroke-width="1.8"/>
<circle cx="213.25" cy="380.57" r="1.7" fill="#111111"/>
<line x1="205.50" y1="369.24" x2="205.50" y2="394.16" stroke="#111111" stroke-width="1.5"/>
<line x1="203.70" y1="369.24" x2="207.30" y2="369.24" stroke="#111111" stroke-width="1.8"/>
<line x1="203.70" y1="394.16" x2="207.30" y2="394.16" stroke="#111111" stroke-width="1.8"/>
<circle cx="205.50" cy="381.70" r="1.7" fill="#111111"/>
<line x1="197.75" y1="372.64" x2="197.75" y2="399.83" stroke="#111111" stroke-width="1.5"/>
<line x1="195.95" y1="372.64" x2="199.55" y2="372.64" stroke="#111111" stroke-width="1.8"/>
<line x1="195.95" y1="399.83" x2="199.55" y2="399.83" stroke="#111111" stroke-width="1.8"/>
<circle cx="197.75" cy="386.23" r="1.7" fill="#111111"/>
<line x1="190.00" y1="376.04" x2="190.00" y2="396.43" stroke="#111111" stroke-width="1.5"/>
<line x1="188.20" y1="376.04" x2="191.80" y2="376.04" stroke="#111111" stroke-width="1.8"/>
<line x1="188.20" y1="396.43" x2="191.80" y2="396.43" stroke="#111111" stroke-width="1.8"/>
<circle cx="190.00" cy="386.23" r="1.7" fill="#111111"/>
<line x1="182.25" y1="378.30" x2="182.25" y2="399.83" stroke="#111111" stroke-width="1.5"/>
<line x1="180.44" y1="378.30" x2="184.05" y2="378.30" stroke="#111111" stroke-width="1.8"/>
<line x1="180.44" y1="399.83" x2="184.05" y2="399.83" stroke="#111111" stroke-width="1.8"/>
<circle cx="182.25" cy="389.07" r="1.7" fill="#111111"/>
<line x1="174.49" y1="378.30" x2="174.49" y2="399.83" stroke="#111111" stroke-width="1.5"/>
<line x1="172.69" y1="378.30" x2="176.29" y2="378.30" stroke="#111111" stroke-width="1.8"/>
<line x1="172.69" y1="399.83" x2="176.29" y2="399.83" stroke="#111111" stroke-width="1.8"/>
<circle cx="174.49" cy="389.07" r="1.7" fill="#111111"/>
<line x1="166.74" y1="378.72" x2="166.74" y2="390.89" stroke="#111111" stroke-width="1.5"/>
<line x1="164.94" y1="378.72" x2="168.54" y2="378.72" stroke="#111111" stroke-width="1.8"/>
<line x1="164.94" y1="390.89" x2="168.54" y2="390.89" stroke="#111111" stroke-width="1.8"/>
<circle cx="166.74" cy="384.81" r="1.9" fill="#111111"/>
<line x1="158.99" y1="382.30" x2="158.99" y2="396.65" stroke="#111111" stroke-width="1.5"/>
<line x1="157.19" y1="382.30" x2="160.79" y2="382.30" stroke="#111111" stroke-width="1.8"/>
<line x1="157.19" y1="396.65" x2="160.79" y2="396.65" stroke="#111111" stroke-width="1.8"/>
<circle cx="158.99" cy="389.47" r="1.9" fill="#111111"/>
<line x1="151.24" y1="383.91" x2="151.24" y2="390.83" stroke="#111111" stroke-width="1.5"/>
<line x1="149.44" y1="383.91" x2="153.04" y2="383.91" stroke="#111111" stroke-width="1.8"/>
<line x1="149.44" y1="390.83" x2="153.04" y2="390.83" stroke="#111111" stroke-width="1.8"/>
<circle cx="151.24" cy="387.37" r="1.9" fill="#111111"/>
<line x1="143.49" y1="378.47" x2="143.49" y2="388.37" stroke="#111111" stroke-width="1.5"/>
<line x1="141.69" y1="378.47" x2="145.29" y2="378.47" stroke="#111111" stroke-width="1.8"/>
<line x1="141.69" y1="388.37" x2="145.29" y2="388.37" stroke="#111111" stroke-width="1.8"/>
<circle cx="143.49" cy="383.42" r="1.9" fill="#111111"/>
<line x1="135.74" y1="378.00" x2="135.74" y2="392.63" stroke="#111111" stroke-width="1.5"/>
<line x1="133.94" y1="378.00" x2="137.54" y2="378.00" stroke="#111111" stroke-width="1.8"/>
<line x1="133.94" y1="392.63" x2="137.54" y2="392.63" stroke="#111111" stroke-width="1.8"/>
<circle cx="135.74" cy="385.31" r="1.9" fill="#111111"/>
<line x1="127.99" y1="378.21" x2="127.99" y2="391.33" stroke="#111111" stroke-width="1.5"/>
<line x1="126.19" y1="378.21" x2="129.79" y2="378.21" stroke="#111111" stroke-width="1.8"/>
<line x1="126.19" y1="391.33" x2="129.79" y2="391.33" stroke="#111111" stroke-width="1.8"/>
<circle cx="127.99" cy="384.77" r="1.9" fill="#111111"/>
<line x1="120.23" y1="382.56" x2="120.23" y2="391.00" stroke="#111111" stroke-width="1.5"/>
<line x1="118.43" y1="382.56" x2="122.03" y2="382.56" stroke="#111111" stroke-width="1.8"/>
<line x1="118.43" y1="391.00" x2="122.03" y2="391.00" stroke="#111111" stroke-width="1.8"/>
<circle cx="120.23" cy="386.78" r="1.9" fill="#111111"/>
<line x1="112.48" y1="378.24" x2="112.48" y2="386.87" stroke="#111111" stroke-width="1.5"/>
<line x1="110.68" y1="378.24" x2="114.28" y2="378.24" stroke="#111111" stroke-width="1.8"/>
<line x1="110.68" y1="386.87" x2="114.28" y2="386.87" stroke="#111111" stroke-width="1.8"/>
<circle cx="112.48" cy="382.56" r="1.9" fill="#111111"/>
<line x1="104.73" y1="379.61" x2="104.73" y2="387.08" stroke="#111111" stroke-width="1.5"/>
<line x1="102.93" y1="379.61" x2="106.53" y2="379.61" stroke="#111111" stroke-width="1.8"/>
<line x1="102.93" y1="387.08" x2="106.53" y2="387.08" stroke="#111111" stroke-width="1.8"/>
<circle cx="104.73" cy="383.34" r="1.9" fill="#111111"/>
<line x1="96.98" y1="380.72" x2="96.98" y2="388.36" stroke="#111111" stroke-width="1.5"/>
<line x1="95.18" y1="380.72" x2="98.78" y2="380.72" stroke="#111111" stroke-width="1.8"/>
<line x1="95.18" y1="388.36" x2="98.78" y2="388.36" stroke="#111111" stroke-width="1.8"/>
<circle cx="96.98" cy="384.54" r="1.9" fill="#111111"/>
<line x1="89.23" y1="381.79" x2="89.23" y2="392.41" stroke="#111111" stroke-width="1.5"/>
<line x1="87.43" y1="381.79" x2="91.03" y2="381.79" stroke="#111111" stroke-width="1.8"/>
<line x1="87.43" y1="392.41" x2="91.03" y2="392.41" stroke="#111111" stroke-width="1.8"/>
<circle cx="89.23" cy="387.10" r="1.9" fill="#111111"/>
<line x1="81.48" y1="391.90" x2="81.48" y2="405.49" stroke="#111111" stroke-width="1.5"/>
<line x1="79.68" y1="391.90" x2="83.28" y2="391.90" stroke="#111111" stroke-width="1.8"/>
<line x1="79.68" y1="405.49" x2="83.28" y2="405.49" stroke="#111111" stroke-width="1.8"/>
<circle cx="81.48" cy="398.70" r="1.7" fill="#111111"/>
<line x1="73.73" y1="382.43" x2="73.73" y2="398.77" stroke="#111111" stroke-width="1.5"/>
<line x1="71.93" y1="382.43" x2="75.53" y2="382.43" stroke="#111111" stroke-width="1.8"/>
<line x1="71.93" y1="398.77" x2="75.53" y2="398.77" stroke="#111111" stroke-width="1.8"/>
<circle cx="73.73" cy="390.60" r="1.9" fill="#111111"/>
<line x1="65.98" y1="378.73" x2="65.98" y2="386.22" stroke="#111111" stroke-width="1.5"/>
<line x1="64.18" y1="378.73" x2="67.78" y2="378.73" stroke="#111111" stroke-width="1.8"/>
<line x1="64.18" y1="386.22" x2="67.78" y2="386.22" stroke="#111111" stroke-width="1.8"/>
<circle cx="65.98" cy="382.47" r="1.9" fill="#111111"/>
<line x1="213.25" y1="283.84" x2="213.25" y2="286.53" stroke="#5b5bd8" stroke-width="1.5"/>
<line x1="211.45" y1="283.84" x2="215.05" y2="283.84" stroke="#5b5bd8" stroke-width="1.8"/>
<line x1="211.45" y1="286.53" x2="215.05" y2="286.53" stroke="#5b5bd8" stroke-width="1.8"/>
<circle cx="213.25" cy="285.19" r="1.9" fill="#5b5bd8"/>
<line x1="205.50" y1="285.23" x2="205.50" y2="293.29" stroke="#5b5bd8" stroke-width="1.5"/>
<line x1="203.70" y1="285.23" x2="207.30" y2="285.23" stroke="#5b5bd8" stroke-width="1.8"/>
<line x1="203.70" y1="293.29" x2="207.30" y2="293.29" stroke="#5b5bd8" stroke-width="1.8"/>
<circle cx="205.50" cy="289.26" r="1.9" fill="#5b5bd8"/>
<line x1="197.75" y1="321.24" x2="197.75" y2="327.44" stroke="#5b5bd8" stroke-width="1.5"/>
<line x1="195.95" y1="321.24" x2="199.55" y2="321.24" stroke="#5b5bd8" stroke-width="1.8"/>
<line x1="195.95" y1="327.44" x2="199.55" y2="327.44" stroke="#5b5bd8" stroke-width="1.8"/>
<circle cx="197.75" cy="324.34" r="1.9" fill="#5b5bd8"/>
<line x1="190.00" y1="371.21" x2="190.00" y2="384.06" stroke="#5b5bd8" stroke-width="1.5"/>
<line x1="188.20" y1="371.21" x2="191.80" y2="371.21" stroke="#5b5bd8" stroke-width="1.8"/>
<line x1="188.20" y1="384.06" x2="191.80" y2="384.06" stroke="#5b5bd8" stroke-width="1.8"/>
<circle cx="190.00" cy="377.63" r="1.9" fill="#5b5bd8"/>
<line x1="182.25" y1="377.88" x2="182.25" y2="391.90" stroke="#5b5bd8" stroke-width="1.5"/>
<line x1="180.44" y1="377.88" x2="184.05" y2="377.88" stroke="#5b5bd8" stroke-width="1.8"/>
<line x1="180.44" y1="391.90" x2="184.05" y2="391.90" stroke="#5b5bd8" stroke-width="1.8"/>
<circle cx="182.25" cy="384.89" r="1.9" fill="#5b5bd8"/>
<line x1="174.49" y1="378.02" x2="174.49" y2="388.83" stroke="#5b5bd8" stroke-width="1.5"/>
<line x1="172.69" y1="378.02" x2="176.29" y2="378.02" stroke="#5b5bd8" stroke-width="1.8"/>
<line x1="172.69" y1="388.83" x2="176.29" y2="388.83" stroke="#5b5bd8" stroke-width="1.8"/>
<circle cx="174.49" cy="383.42" r="1.9" fill="#5b5bd8"/>
<line x1="166.74" y1="372.76" x2="166.74" y2="390.94" stroke="#5b5bd8" stroke-width="1.5"/>
<line x1="164.94" y1="372.76" x2="168.54" y2="372.76" stroke="#5b5bd8" stroke-width="1.8"/>
<line x1="164.94" y1="390.94" x2="168.54" y2="390.94" stroke="#5b5bd8" stroke-width="1.8"/>
<circle cx="166.74" cy="381.85" r="1.9" fill="#5b5bd8"/>
<line x1="158.99" y1="381.37" x2="158.99" y2="388.36" stroke="#5b5bd8" stroke-width="1.5"/>
<line x1="157.19" y1="381.37" x2="160.79" y2="381.37" stroke="#5b5bd8" stroke-width="1.8"/>
<line x1="157.19" y1="388.36" x2="160.79" y2="388.36" stroke="#5b5bd8" stroke-width="1.8"/>
<circle cx="158.99" cy="384.87" r="1.9" fill="#5b5bd8"/>
<line x1="151.24" y1="375.08" x2="151.24" y2="383.87" stroke="#5b5bd8" stroke-width="1.5"/>
<line x1="149.44" y1="375.08" x2="153.04" y2="375.08" stroke="#5b5bd8" stroke-width="1.8"/>
<line x1="149.44" y1="383.87" x2="153.04" y2="383.87" stroke="#5b5bd8" stroke-width="1.8"/>
<circle cx="151.24" cy="379.47" r="1.9" fill="#5b5bd8"/>
<line x1="143.49" y1="371.16" x2="143.49" y2="388.96" stroke="#5b5bd8" stroke-width="1.5"/>
<line x1="141.69" y1="371.16" x2="145.29" y2="371.16" stroke="#5b5bd8" stroke-width="1.8"/>
<line x1="141.69" y1="388.96" x2="145.29" y2="388.96" stroke="#5b5bd8" stroke-width="1.8"/>
<circle cx="143.49" cy="380.06" r="1.9" fill="#5b5bd8"/>
<line x1="135.74" y1="371.60" x2="135.74" y2="389.63" stroke="#5b5bd8" stroke-width="1.5"/>
<line x1="133.94" y1="371.60" x2="137.54" y2="371.60" stroke="#5b5bd8" stroke-width="1.8"/>
<line x1="133.94" y1="389.63" x2="137.54" y2="389.63" stroke="#5b5bd8" stroke-width="1.8"/>
<circle cx="135.74" cy="380.62" r="1.9" fill="#5b5bd8"/>
<line x1="127.99" y1="370.32" x2="127.99" y2="390.02" stroke="#5b5bd8" stroke-width="1.5"/>
<line x1="126.19" y1="370.32" x2="129.79" y2="370.32" stroke="#5b5bd8" stroke-width="1.8"/>
<line x1="126.19" y1="390.02" x2="129.79" y2="390.02" stroke="#5b5bd8" stroke-width="1.8"/>
<circle cx="127.99" cy="380.17" r="1.9" fill="#5b5bd8"/>
<line x1="120.23" y1="374.52" x2="120.23" y2="384.81" stroke="#5b5bd8" stroke-width="1.5"/>
<line x1="118.43" y1="374.52" x2="122.03" y2="374.52" stroke="#5b5bd8" stroke-width="1.8"/>
<line x1="118.43" y1="384.81" x2="122.03" y2="384.81" stroke="#5b5bd8" stroke-width="1.8"/>
<circle cx="120.23" cy="379.66" r="1.9" fill="#5b5bd8"/>
<line x1="112.48" y1="373.82" x2="112.48" y2="387.23" stroke="#5b5bd8" stroke-width="1.5"/>
<line x1="110.68" y1="373.82" x2="114.28" y2="373.82" stroke="#5b5bd8" stroke-width="1.8"/>
<line x1="110.68" y1="387.23" x2="114.28" y2="387.23" stroke="#5b5bd8" stroke-width="1.8"/>
<circle cx="112.48" cy="380.52" r="1.9" fill="#5b5bd8"/>
<line x1="104.73" y1="376.24" x2="104.73" y2="390.71" stroke="#5b5bd8" stroke-width="1.5"/>
<line x1="102.93" y1="376.24" x2="106.53" y2="376.24" stroke="#5b5bd8" stroke-width="1.8"/>
<line x1="102.93" y1="390.71" x2="106.53" y2="390.71" stroke="#5b5bd8" stroke-width="1.8"/>
<circle cx="104.73" cy="383.47" r="1.9" fill="#5b5bd8"/>
<line x1="96.98" y1="377.60" x2="96.98" y2="389.35" stroke="#5b5bd8" stroke-width="1.5"/>
<line x1="95.18" y1="377.60" x2="98.78" y2="377.60" stroke="#5b5bd8" stroke-width="1.8"/>
<line x1="95.18" y1="389.35" x2="98.78" y2="389.35" stroke="#5b5bd8" stroke-width="1.8"/>
<circle cx="96.98" cy="383.47" r="1.9" fill="#5b5bd8"/>
<line x1="89.23" y1="380.77" x2="89.23" y2="391.83" stroke="#5b5bd8" stroke-width="1.5"/>
<line x1="87.43" y1="380.77" x2="91.03" y2="380.77" stroke="#5b5bd8" stroke-width="1.8"/>
<line x1="87.43" y1="391.83" x2="91.03" y2="391.83" stroke="#5b5bd8" stroke-width="1.8"/>
<circle cx="89.23" cy="386.30" r="1.9" fill="#5b5bd8"/>
<line x1="81.48" y1="371.16" x2="81.48" y2="389.10" stroke="#5b5bd8" stroke-width="1.5"/>
<line x1="79.68" y1="371.16" x2="83.28" y2="371.16" stroke="#5b5bd8" stroke-width="1.8"/>
<line x1="79.68" y1="389.10" x2="83.28" y2="389.10" stroke="#5b5bd8" stroke-width="1.8"/>
<circle cx="81.48" cy="380.13" r="1.9" fill="#5b5bd8"/>
<line x1="73.73" y1="371.01" x2="73.73" y2="391.20" stroke="#5b5bd8" stroke-width="1.5"/>
<line x1="71.93" y1="371.01" x2="75.53" y2="371.01" stroke="#5b5bd8" stroke-width="1.8"/>
<line x1="71.93" y1="391.20" x2="75.53" y2="391.20" stroke="#5b5bd8" stroke-width="1.8"/>
<circle cx="73.73" cy="381.11" r="1.9" fill="#5b5bd8"/>
<line x1="65.98" y1="373.42" x2="65.98" y2="387.75" stroke="#5b5bd8" stroke-width="1.5"/>
<line x1="64.18" y1="373.42" x2="67.78" y2="373.42" stroke="#5b5bd8" stroke-width="1.8"/>
<line x1="64.18" y1="387.75" x2="67.78" y2="387.75" stroke="#5b5bd8" stroke-width="1.8"/>
<circle cx="65.98" cy="380.58" r="1.9" fill="#5b5bd8"/>
<polyline points="65.98,382.84 66.63,382.84 67.28,382.84 67.93,382.84 68.58,382.84 69.23,382.84 69.88,382.84 70.53,382.84 71.18,382.84 71.83,382.84 72.48,382.84 73.13,382.84 73.78,382.84 74.43,382.84 75.08,382.84 75.73,382.84 76.38,382.84 77.03,382.84 77.68,382.84 78.33,382.84 78.98,382.84 79.63,382.84 80.28,382.84 80.93,382.84 81.58,382.84 82.23,382.84 82.88,382.84 83.53,382.84 84.18,382.84 84.83,382.84 85.48,382.84 86.13,382.84 86.78,382.84 87.43,382.84 88.08,382.84 88.73,382.84 89.38,382.84 90.03,382.84 90.68,382.84 91.33,382.84 91.98,382.84 92.63,382.84 93.28,382.84 93.93,382.84 94.58,382.84 95.23,382.84 95.88,382.84 96.53,382.84 97.18,382.84 97.83,382.84 98.48,382.84 99.13,382.84 99.78,382.84 100.43,382.84 101.08,382.84 101.73,382.84 102.38,382.84 103.03,382.84 103.68,382.84 104.33,382.84 104.98,382.84 105.63,382.84 106.28,382.84 106.93,382.84 107.58,382.84 108.23,382.84 108.88,382.84 109.53,382.84 110.18,382.84 110.83,382.84 111.48,382.84 112.13,382.84 112.78,382.84 113.43,382.84 114.08,382.84 114.73,382.84 115.38,382.84 116.03,382.84 116.68,382.84 117.33,382.84 117.98,382.84 118.63,382.84 119.28,382.84 119.93,382.84 120.58,382.84 121.23,382.84 121.88,382.84 122.53,382.84 123.18,382.84 123.83,382.84 124.48,382.84 125.13,382.84 125.78,382.84 126.43,382.84 127.08,382.84 127.73,382.84 128.38,382.84 129.03,382.84 129.68,382.84 130.33,382.84 130.98,382.84 131.63,382.84 132.28,382.84 132.93,382.84 133.58,382.84 134.23,382.84 134.88,382.84 135.53,382.84 136.18,382.84 136.83,382.84 137.48,382.84 138.13,382.84 138.78,382.84 139.43,382.84 140.08,382.84 140.73,382.84 141.38,382.84 142.03,382.84 142.68,382.84 143.33,382.84 143.98,382.84 144.63,382.84 145.28,382.84 145.93,382.84 146.58,382.84 147.23,382.84 147.88,382.84 148.53,382.84 149.18,382.84 149.83,382.84 150.48,382.84 151.13,382.84 151.78,382.84 152.43,382.84 153.08,382.84 153.73,382.84 154.38,382.84 155.03,382.84 155.68,382.84 156.33,382.84 156.98,382.84 157.63,382.84 158.28,382.84 158.93,382.84 159.58,382.84 160.23,382.84 160.88,382.84 161.53,382.84 162.18,382.84 162.83,382.84 163.48,382.84 164.13,382.84 164.78,382.83 165.43,382.83 166.08,382.83 166.73,382.83 167.38,382.83 168.03,382.83 168.68,382.83 169.33,382.83 169.98,382.83 170.63,382.83 171.28,382.83 171.93,382.82 172.58,382.82 173.23,382.82 173.88,382.81 174.53,382.80 175.18,382.80 175.83,382.79 176.48,382.77 177.13,382.75 177.78,382.73 178.43,382.70 179.08,382.67 179.73,382.62 180.38,382.57 181.03,382.49 181.68,382.40 182.33,382.28 182.98,382.13 183.63,381.95 184.28,381.71 184.93,381.41 185.58,381.03 186.23,380.55 186.88,379.95 187.53,379.20 188.18,378.26 188.83,377.10 189.48,375.66 190.13,373.90 190.78,371.76 191.43,369.18 192.08,366.12 192.73,362.54 193.38,358.42 194.03,353.79 194.68,348.68 195.33,343.20 195.98,337.47 196.63,331.65 197.28,325.89 197.93,320.36 198.58,315.20 199.23,310.49 199.88,306.29 200.53,302.63 201.18,299.49 201.83,296.85 202.48,294.64 203.13,292.82 203.78,291.34 204.43,290.14 205.08,289.17 205.73,288.40 206.38,287.77 207.03,287.28 207.68,286.89 208.33,286.58 208.98,286.33 209.63,286.14 210.28,285.98 210.93,285.86 211.58,285.77 212.23,285.69 212.88,285.63" fill="none" stroke="#5b5bd8" stroke-width="1.7"/>
<line x1="213.25" y1="279.16" x2="213.25" y2="281.91" stroke="#83851f" stroke-width="1.5"/>
<line x1="211.45" y1="279.16" x2="215.05" y2="279.16" stroke="#83851f" stroke-width="1.8"/>
<line x1="211.45" y1="281.91" x2="215.05" y2="281.91" stroke="#83851f" stroke-width="1.8"/>
<circle cx="213.25" cy="280.53" r="1.9" fill="#83851f"/>
<line x1="205.50" y1="277.11" x2="205.50" y2="285.75" stroke="#83851f" stroke-width="1.5"/>
<line x1="203.70" y1="277.11" x2="207.30" y2="277.11" stroke="#83851f" stroke-width="1.8"/>
<line x1="203.70" y1="285.75" x2="207.30" y2="285.75" stroke="#83851f" stroke-width="1.8"/>
<circle cx="205.50" cy="281.43" r="1.9" fill="#83851f"/>
<line x1="197.75" y1="280.02" x2="197.75" y2="282.64" stroke="#83851f" stroke-width="1.5"/>
<line x1="195.95" y1="280.02" x2="199.55" y2="280.02" stroke="#83851f" stroke-width="1.8"/>
<line x1="195.95" y1="282.64" x2="199.55" y2="282.64" stroke="#83851f" stroke-width="1.8"/>
<circle cx="197.75" cy="281.33" r="1.9" fill="#83851f"/>
<line x1="190.00" y1="279.42" x2="190.00" y2="281.27" stroke="#83851f" stroke-width="1.5"/>
<line x1="188.20" y1="279.42" x2="191.80" y2="279.42" stroke="#83851f" stroke-width="1.8"/>
<line x1="188.20" y1="281.27" x2="191.80" y2="281.27" stroke="#83851f" stroke-width="1.8"/>
<circle cx="190.00" cy="280.34" r="1.9" fill="#83851f"/>
<line x1="182.25" y1="282.35" x2="182.25" y2="283.69" stroke="#83851f" stroke-width="1.5"/>
<line x1="180.44" y1="282.35" x2="184.05" y2="282.35" stroke="#83851f" stroke-width="1.8"/>
<line x1="180.44" y1="283.69" x2="184.05" y2="283.69" stroke="#83851f" stroke-width="1.8"/>
<circle cx="182.25" cy="283.02" r="1.9" fill="#83851f"/>
<line x1="174.49" y1="330.67" x2="174.49" y2="339.26" stroke="#83851f" stroke-width="1.5"/>
<line x1="172.69" y1="330.67" x2="176.29" y2="330.67" stroke="#83851f" stroke-width="1.8"/>
<line x1="172.69" y1="339.26" x2="176.29" y2="339.26" stroke="#83851f" stroke-width="1.8"/>
<circle cx="174.49" cy="334.97" r="1.9" fill="#83851f"/>
<line x1="166.74" y1="365.55" x2="166.74" y2="391.45" stroke="#83851f" stroke-width="1.5"/>
<line x1="164.94" y1="365.55" x2="168.54" y2="365.55" stroke="#83851f" stroke-width="1.8"/>
<line x1="164.94" y1="391.45" x2="168.54" y2="391.45" stroke="#83851f" stroke-width="1.8"/>
<circle cx="166.74" cy="378.50" r="1.9" fill="#83851f"/>
<line x1="158.99" y1="375.15" x2="158.99" y2="389.19" stroke="#83851f" stroke-width="1.5"/>
<line x1="157.19" y1="375.15" x2="160.79" y2="375.15" stroke="#83851f" stroke-width="1.8"/>
<line x1="157.19" y1="389.19" x2="160.79" y2="389.19" stroke="#83851f" stroke-width="1.8"/>
<circle cx="158.99" cy="382.17" r="1.9" fill="#83851f"/>
<line x1="151.24" y1="374.95" x2="151.24" y2="398.31" stroke="#83851f" stroke-width="1.5"/>
<line x1="149.44" y1="374.95" x2="153.04" y2="374.95" stroke="#83851f" stroke-width="1.8"/>
<line x1="149.44" y1="398.31" x2="153.04" y2="398.31" stroke="#83851f" stroke-width="1.8"/>
<circle cx="151.24" cy="386.63" r="1.9" fill="#83851f"/>
<line x1="143.49" y1="375.54" x2="143.49" y2="398.68" stroke="#83851f" stroke-width="1.5"/>
<line x1="141.69" y1="375.54" x2="145.29" y2="375.54" stroke="#83851f" stroke-width="1.8"/>
<line x1="141.69" y1="398.68" x2="145.29" y2="398.68" stroke="#83851f" stroke-width="1.8"/>
<circle cx="143.49" cy="387.11" r="1.9" fill="#83851f"/>
<line x1="135.74" y1="378.84" x2="135.74" y2="396.28" stroke="#83851f" stroke-width="1.5"/>
<line x1="133.94" y1="378.84" x2="137.54" y2="378.84" stroke="#83851f" stroke-width="1.8"/>
<line x1="133.94" y1="396.28" x2="137.54" y2="396.28" stroke="#83851f" stroke-width="1.8"/>
<circle cx="135.74" cy="387.56" r="1.9" fill="#83851f"/>
<line x1="127.99" y1="369.90" x2="127.99" y2="384.94" stroke="#83851f" stroke-width="1.5"/>
<line x1="126.19" y1="369.90" x2="129.79" y2="369.90" stroke="#83851f" stroke-width="1.8"/>
<line x1="126.19" y1="384.94" x2="129.79" y2="384.94" stroke="#83851f" stroke-width="1.8"/>
<circle cx="127.99" cy="377.42" r="1.9" fill="#83851f"/>
<line x1="120.23" y1="367.96" x2="120.23" y2="386.60" stroke="#83851f" stroke-width="1.5"/>
<line x1="118.43" y1="367.96" x2="122.03" y2="367.96" stroke="#83851f" stroke-width="1.8"/>
<line x1="118.43" y1="386.60" x2="122.03" y2="386.60" stroke="#83851f" stroke-width="1.8"/>
<circle cx="120.23" cy="377.28" r="1.9" fill="#83851f"/>
<line x1="112.48" y1="371.98" x2="112.48" y2="391.26" stroke="#83851f" stroke-width="1.5"/>
<line x1="110.68" y1="371.98" x2="114.28" y2="371.98" stroke="#83851f" stroke-width="1.8"/>
<line x1="110.68" y1="391.26" x2="114.28" y2="391.26" stroke="#83851f" stroke-width="1.8"/>
<circle cx="112.48" cy="381.62" r="1.9" fill="#83851f"/>
<line x1="104.73" y1="367.15" x2="104.73" y2="394.29" stroke="#83851f" stroke-width="1.5"/>
<line x1="102.93" y1="367.15" x2="106.53" y2="367.15" stroke="#83851f" stroke-width="1.8"/>
<line x1="102.93" y1="394.29" x2="106.53" y2="394.29" stroke="#83851f" stroke-width="1.8"/>
<circle cx="104.73" cy="380.72" r="1.9" fill="#83851f"/>
<line x1="96.98" y1="375.15" x2="96.98" y2="388.50" stroke="#83851f" stroke-width="1.5"/>
<line x1="95.18" y1="375.15" x2="98.78" y2="375.15" stroke="#83851f" stroke-width="1.8"/>
<line x1="95.18" y1="388.50" x2="98.78" y2="388.50" stroke="#83851f" stroke-width="1.8"/>
<circle cx="96.98" cy="381.83" r="1.9" fill="#83851f"/>
<line x1="89.23" y1="375.04" x2="89.23" y2="397.85" stroke="#83851f" stroke-width="1.5"/>
<line x1="87.43" y1="375.04" x2="91.03" y2="375.04" stroke="#83851f" stroke-width="1.8"/>
<line x1="87.43" y1="397.85" x2="91.03" y2="397.85" stroke="#83851f" stroke-width="1.8"/>
<circle cx="89.23" cy="386.45" r="1.9" fill="#83851f"/>
<line x1="81.48" y1="372.07" x2="81.48" y2="385.11" stroke="#83851f" stroke-width="1.5"/>
<line x1="79.68" y1="372.07" x2="83.28" y2="372.07" stroke="#83851f" stroke-width="1.8"/>
<line x1="79.68" y1="385.11" x2="83.28" y2="385.11" stroke="#83851f" stroke-width="1.8"/>
<circle cx="81.48" cy="378.59" r="1.9" fill="#83851f"/>
<line x1="73.73" y1="375.98" x2="73.73" y2="396.62" stroke="#83851f" stroke-width="1.5"/>
<line x1="71.93" y1="375.98" x2="75.53" y2="375.98" stroke="#83851f" stroke-width="1.8"/>
<line x1="71.93" y1="396.62" x2="75.53" y2="396.62" stroke="#83851f" stroke-width="1.8"/>
<circle cx="73.73" cy="386.30" r="1.9" fill="#83851f"/>
<line x1="65.98" y1="376.26" x2="65.98" y2="395.79" stroke="#83851f" stroke-width="1.5"/>
<line x1="64.18" y1="376.26" x2="67.78" y2="376.26" stroke="#83851f" stroke-width="1.8"/>
<line x1="64.18" y1="395.79" x2="67.78" y2="395.79" stroke="#83851f" stroke-width="1.8"/>
<circle cx="65.98" cy="386.03" r="1.9" fill="#83851f"/>
<polyline points="65.98,382.84 66.63,382.84 67.28,382.84 67.93,382.84 68.58,382.84 69.23,382.84 69.88,382.84 70.53,382.84 71.18,382.84 71.83,382.84 72.48,382.84 73.13,382.84 73.78,382.84 74.43,382.84 75.08,382.84 75.73,382.84 76.38,382.84 77.03,382.84 77.68,382.84 78.33,382.84 78.98,382.84 79.63,382.84 80.28,382.84 80.93,382.84 81.58,382.84 82.23,382.84 82.88,382.84 83.53,382.84 84.18,382.84 84.83,382.84 85.48,382.84 86.13,382.84 86.78,382.84 87.43,382.84 88.08,382.84 88.73,382.84 89.38,382.84 90.03,382.84 90.68,382.84 91.33,382.84 91.98,382.84 92.63,382.84 93.28,382.84 93.93,382.84 94.58,382.84 95.23,382.84 95.88,382.84 96.53,382.84 97.18,382.84 97.83,382.84 98.48,382.84 99.13,382.84 99.78,382.84 100.43,382.84 101.08,382.84 101.73,382.84 102.38,382.84 103.03,382.84 103.68,382.84 104.33,382.84 104.98,382.84 105.63,382.84 106.28,382.84 106.93,382.84 107.58,382.84 108.23,382.84 108.88,382.84 109.53,382.84 110.18,382.84 110.83,382.84 111.48,382.84 112.13,382.84 112.78,382.84 113.43,382.84 114.08,382.84 114.73,382.84 115.38,382.84 116.03,382.84 116.68,382.84 117.33,382.84 117.98,382.84 118.63,382.84 119.28,382.84 119.93,382.84 120.58,382.84 121.23,382.84 121.88,382.84 122.53,382.84 123.18,382.84 123.83,382.84 124.48,382.84 125.13,382.84 125.78,382.84 126.43,382.84 127.08,382.84 127.73,382.84 128.38,382.84 129.03,382.84 129.68,382.84 130.33,382.84 130.98,382.84 131.63,382.84 132.28,382.84 132.93,382.84 133.58,382.84 134.23,382.84 134.88,382.84 135.53,382.84 136.18,382.84 136.83,382.84 137.48,382.84 138.13,382.84 138.78,382.84 139.43,382.84 140.08,382.84 140.73,382.84 141.38,382.84 142.03,382.84 142.68,382.84 143.33,382.84 143.98,382.84 144.63,382.84 145.28,382.84 145.93,382.84 146.58,382.84 147.23,382.84 147.88,382.84 148.53,382.83 149.18,382.83 149.83,382.83 150.48,382.83 151.13,382.83 151.78,382.83 152.43,382.83 153.08,382.83 153.73,382.83 154.38,382.82 155.03,382.82 155.68,382.82 156.33,382.81 156.98,382.80 157.63,382.79 158.28,382.77 158.93,382.75 159.58,382.72 160.23,382.68 160.88,382.63 161.53,382.56 162.18,382.47 162.83,382.34 163.48,382.18 164.13,381.95 164.78,381.65 165.43,381.25 166.08,380.72 166.73,380.01 167.38,379.08 168.03,377.86 168.68,376.26 169.33,374.20 169.98,371.57 170.63,368.25 171.28,364.17 171.93,359.25 172.58,353.50 173.23,346.98 173.88,339.87 174.53,332.42 175.18,324.95 175.83,317.77 176.48,311.15 177.13,305.27 177.78,300.23 178.43,296.02 179.08,292.60 179.73,289.87 180.38,287.73 181.03,286.07 181.68,284.80 182.33,283.82 182.98,283.09 183.63,282.53 184.28,282.12 184.93,281.80 185.58,281.57 186.23,281.39 186.88,281.26 187.53,281.16 188.18,281.09 188.83,281.04 189.48,281.00 190.13,280.97 190.78,280.94 191.43,280.93 192.08,280.92 192.73,280.91 193.38,280.90 194.03,280.89 194.68,280.89 195.33,280.89 195.98,280.88 196.63,280.88 197.28,280.88 197.93,280.88 198.58,280.88 199.23,280.88 199.88,280.88 200.53,280.88 201.18,280.88 201.83,280.88 202.48,280.88 203.13,280.88 203.78,280.88 204.43,280.88 205.08,280.88 205.73,280.88 206.38,280.88 207.03,280.88 207.68,280.88 208.33,280.88 208.98,280.88 209.63,280.88 210.28,280.88 210.93,280.88 211.58,280.88 212.23,280.88 212.88,280.88" fill="none" stroke="#83851f" stroke-width="1.7"/>
<line x1="213.25" y1="274.64" x2="213.25" y2="281.52" stroke="#e3262c" stroke-width="1.5"/>
<line x1="211.45" y1="274.64" x2="215.05" y2="274.64" stroke="#e3262c" stroke-width="1.8"/>
<line x1="211.45" y1="281.52" x2="215.05" y2="281.52" stroke="#e3262c" stroke-width="1.8"/>
<circle cx="213.25" cy="278.08" r="1.9" fill="#e3262c"/>
<line x1="205.50" y1="277.92" x2="205.50" y2="281.50" stroke="#e3262c" stroke-width="1.5"/>
<line x1="203.70" y1="277.92" x2="207.30" y2="277.92" stroke="#e3262c" stroke-width="1.8"/>
<line x1="203.70" y1="281.50" x2="207.30" y2="281.50" stroke="#e3262c" stroke-width="1.8"/>
<circle cx="205.50" cy="279.71" r="1.9" fill="#e3262c"/>
<line x1="197.75" y1="272.09" x2="197.75" y2="283.52" stroke="#e3262c" stroke-width="1.5"/>
<line x1="195.95" y1="272.09" x2="199.55" y2="272.09" stroke="#e3262c" stroke-width="1.8"/>
<line x1="195.95" y1="283.52" x2="199.55" y2="283.52" stroke="#e3262c" stroke-width="1.8"/>
<circle cx="197.75" cy="277.80" r="1.9" fill="#e3262c"/>
<line x1="190.00" y1="274.77" x2="190.00" y2="283.19" stroke="#e3262c" stroke-width="1.5"/>
<line x1="188.20" y1="274.77" x2="191.80" y2="274.77" stroke="#e3262c" stroke-width="1.8"/>
<line x1="188.20" y1="283.19" x2="191.80" y2="283.19" stroke="#e3262c" stroke-width="1.8"/>
<circle cx="190.00" cy="278.98" r="1.9" fill="#e3262c"/>
<line x1="182.25" y1="278.40" x2="182.25" y2="279.90" stroke="#e3262c" stroke-width="1.5"/>
<line x1="180.44" y1="278.40" x2="184.05" y2="278.40" stroke="#e3262c" stroke-width="1.8"/>
<line x1="180.44" y1="279.90" x2="184.05" y2="279.90" stroke="#e3262c" stroke-width="1.8"/>
<circle cx="182.25" cy="279.15" r="1.9" fill="#e3262c"/>
<line x1="174.49" y1="276.16" x2="174.49" y2="279.37" stroke="#e3262c" stroke-width="1.5"/>
<line x1="172.69" y1="276.16" x2="176.29" y2="276.16" stroke="#e3262c" stroke-width="1.8"/>
<line x1="172.69" y1="279.37" x2="176.29" y2="279.37" stroke="#e3262c" stroke-width="1.8"/>
<circle cx="174.49" cy="277.77" r="1.9" fill="#e3262c"/>
<line x1="166.74" y1="273.54" x2="166.74" y2="281.85" stroke="#e3262c" stroke-width="1.5"/>
<line x1="164.94" y1="273.54" x2="168.54" y2="273.54" stroke="#e3262c" stroke-width="1.8"/>
<line x1="164.94" y1="281.85" x2="168.54" y2="281.85" stroke="#e3262c" stroke-width="1.8"/>
<circle cx="166.74" cy="277.70" r="1.9" fill="#e3262c"/>
<line x1="158.99" y1="279.54" x2="158.99" y2="280.90" stroke="#e3262c" stroke-width="1.5"/>
<line x1="157.19" y1="279.54" x2="160.79" y2="279.54" stroke="#e3262c" stroke-width="1.8"/>
<line x1="157.19" y1="280.90" x2="160.79" y2="280.90" stroke="#e3262c" stroke-width="1.8"/>
<circle cx="158.99" cy="280.22" r="1.9" fill="#e3262c"/>
<line x1="151.24" y1="311.97" x2="151.24" y2="321.26" stroke="#e3262c" stroke-width="1.5"/>
<line x1="149.44" y1="311.97" x2="153.04" y2="311.97" stroke="#e3262c" stroke-width="1.8"/>
<line x1="149.44" y1="321.26" x2="153.04" y2="321.26" stroke="#e3262c" stroke-width="1.8"/>
<circle cx="151.24" cy="316.62" r="1.9" fill="#e3262c"/>
<line x1="143.49" y1="363.92" x2="143.49" y2="390.01" stroke="#e3262c" stroke-width="1.5"/>
<line x1="141.69" y1="363.92" x2="145.29" y2="363.92" stroke="#e3262c" stroke-width="1.8"/>
<line x1="141.69" y1="390.01" x2="145.29" y2="390.01" stroke="#e3262c" stroke-width="1.8"/>
<circle cx="143.49" cy="376.97" r="1.9" fill="#e3262c"/>
<line x1="135.74" y1="362.99" x2="135.74" y2="389.17" stroke="#e3262c" stroke-width="1.5"/>
<line x1="133.94" y1="362.99" x2="137.54" y2="362.99" stroke="#e3262c" stroke-width="1.8"/>
<line x1="133.94" y1="389.17" x2="137.54" y2="389.17" stroke="#e3262c" stroke-width="1.8"/>
<circle cx="135.74" cy="376.08" r="1.9" fill="#e3262c"/>
<line x1="127.99" y1="368.43" x2="127.99" y2="395.99" stroke="#e3262c" stroke-width="1.5"/>
<line x1="126.19" y1="368.43" x2="129.79" y2="368.43" stroke="#e3262c" stroke-width="1.8"/>
<line x1="126.19" y1="395.99" x2="129.79" y2="395.99" stroke="#e3262c" stroke-width="1.8"/>
<circle cx="127.99" cy="382.21" r="1.9" fill="#e3262c"/>
<line x1="120.23" y1="359.77" x2="120.23" y2="391.28" stroke="#e3262c" stroke-width="1.5"/>
<line x1="118.43" y1="359.77" x2="122.03" y2="359.77" stroke="#e3262c" stroke-width="1.8"/>
<line x1="118.43" y1="391.28" x2="122.03" y2="391.28" stroke="#e3262c" stroke-width="1.8"/>
<circle cx="120.23" cy="375.53" r="1.9" fill="#e3262c"/>
<line x1="112.48" y1="363.72" x2="112.48" y2="388.47" stroke="#e3262c" stroke-width="1.5"/>
<line x1="110.68" y1="363.72" x2="114.28" y2="363.72" stroke="#e3262c" stroke-width="1.8"/>
<line x1="110.68" y1="388.47" x2="114.28" y2="388.47" stroke="#e3262c" stroke-width="1.8"/>
<circle cx="112.48" cy="376.09" r="1.9" fill="#e3262c"/>
<line x1="104.73" y1="377.11" x2="104.73" y2="393.31" stroke="#e3262c" stroke-width="1.5"/>
<line x1="102.93" y1="377.11" x2="106.53" y2="377.11" stroke="#e3262c" stroke-width="1.8"/>
<line x1="102.93" y1="393.31" x2="106.53" y2="393.31" stroke="#e3262c" stroke-width="1.8"/>
<circle cx="104.73" cy="385.21" r="1.9" fill="#e3262c"/>
<line x1="96.98" y1="366.68" x2="96.98" y2="385.66" stroke="#e3262c" stroke-width="1.5"/>
<line x1="95.18" y1="366.68" x2="98.78" y2="366.68" stroke="#e3262c" stroke-width="1.8"/>
<line x1="95.18" y1="385.66" x2="98.78" y2="385.66" stroke="#e3262c" stroke-width="1.8"/>
<circle cx="96.98" cy="376.17" r="1.9" fill="#e3262c"/>
<line x1="89.23" y1="364.47" x2="89.23" y2="392.84" stroke="#e3262c" stroke-width="1.5"/>
<line x1="87.43" y1="364.47" x2="91.03" y2="364.47" stroke="#e3262c" stroke-width="1.8"/>
<line x1="87.43" y1="392.84" x2="91.03" y2="392.84" stroke="#e3262c" stroke-width="1.8"/>
<circle cx="89.23" cy="378.65" r="1.9" fill="#e3262c"/>
<line x1="81.48" y1="370.67" x2="81.48" y2="391.72" stroke="#e3262c" stroke-width="1.5"/>
<line x1="79.68" y1="370.67" x2="83.28" y2="370.67" stroke="#e3262c" stroke-width="1.8"/>
<line x1="79.68" y1="391.72" x2="83.28" y2="391.72" stroke="#e3262c" stroke-width="1.8"/>
<circle cx="81.48" cy="381.19" r="1.9" fill="#e3262c"/>
<line x1="73.73" y1="369.70" x2="73.73" y2="401.64" stroke="#e3262c" stroke-width="1.5"/>
<line x1="71.93" y1="369.70" x2="75.53" y2="369.70" stroke="#e3262c" stroke-width="1.8"/>
<line x1="71.93" y1="401.64" x2="75.53" y2="401.64" stroke="#e3262c" stroke-width="1.8"/>
<circle cx="73.73" cy="385.67" r="1.9" fill="#e3262c"/>
<line x1="65.98" y1="377.28" x2="65.98" y2="395.25" stroke="#e3262c" stroke-width="1.5"/>
<line x1="64.18" y1="377.28" x2="67.78" y2="377.28" stroke="#e3262c" stroke-width="1.8"/>
<line x1="64.18" y1="395.25" x2="67.78" y2="395.25" stroke="#e3262c" stroke-width="1.8"/>
<circle cx="65.98" cy="386.26" r="1.9" fill="#e3262c"/>
<polyline points="65.98,381.14 66.63,381.14 67.28,381.14 67.93,381.14 68.58,381.14 69.23,381.14 69.88,381.14 70.53,381.14 71.18,381.14 71.83,381.14 72.48,381.14 73.13,381.14 73.78,381.14 74.43,381.14 75.08,381.14 75.73,381.14 76.38,381.14 77.03,381.14 77.68,381.14 78.33,381.14 78.98,381.14 79.63,381.14 80.28,381.14 80.93,381.14 81.58,381.14 82.23,381.14 82.88,381.14 83.53,381.14 84.18,381.14 84.83,381.14 85.48,381.14 86.13,381.14 86.78,381.14 87.43,381.14 88.08,381.14 88.73,381.14 89.38,381.14 90.03,381.14 90.68,381.14 91.33,381.14 91.98,381.14 92.63,381.14 93.28,381.14 93.93,381.14 94.58,381.14 95.23,381.14 95.88,381.14 96.53,381.14 97.18,381.14 97.83,381.14 98.48,381.14 99.13,381.14 99.78,381.14 100.43,381.14 101.08,381.14 101.73,381.14 102.38,381.14 103.03,381.14 103.68,381.14 104.33,381.14 104.98,381.14 105.63,381.14 106.28,381.14 106.93,381.14 107.58,381.14 108.23,381.14 108.88,381.14 109.53,381.14 110.18,381.14 110.83,381.14 111.48,381.14 112.13,381.14 112.78,381.14 113.43,381.14 114.08,381.14 114.73,381.14 115.38,381.14 116.03,381.14 116.68,381.14 117.33,381.14 117.98,381.14 118.63,381.14 119.28,381.14 119.93,381.14 120.58,381.14 121.23,381.14 121.88,381.14 122.53,381.14 123.18,381.14 123.83,381.14 124.48,381.14 125.13,381.13 125.78,381.13 126.43,381.13 127.08,381.13 127.73,381.13 128.38,381.13 129.03,381.13 129.68,381.12 130.33,381.12 130.98,381.12 131.63,381.11 132.28,381.10 132.93,381.09 133.58,381.07 134.23,381.05 134.88,381.01 135.53,380.97 136.18,380.92 136.83,380.84 137.48,380.74 138.13,380.60 138.78,380.42 139.43,380.18 140.08,379.85 140.73,379.42 141.38,378.85 142.03,378.09 142.68,377.08 143.33,375.77 143.98,374.05 144.63,371.85 145.28,369.04 145.93,365.52 146.58,361.21 147.23,356.05 147.88,350.06 148.53,343.34 149.18,336.08 149.83,328.55 150.48,321.09 151.13,313.98 151.78,307.50 152.43,301.79 153.08,296.93 153.73,292.91 154.38,289.65 155.03,287.07 155.68,285.04 156.33,283.48 156.98,282.28 157.63,281.37 158.28,280.68 158.93,280.16 159.58,279.77 160.23,279.48 160.88,279.26 161.53,279.09 162.18,278.97 162.83,278.88 163.48,278.81 164.13,278.76 164.78,278.72 165.43,278.70 166.08,278.67 166.73,278.66 167.38,278.65 168.03,278.64 168.68,278.63 169.33,278.63 169.98,278.62 170.63,278.62 171.28,278.62 171.93,278.62 172.58,278.62 173.23,278.62 173.88,278.61 174.53,278.61 175.18,278.61 175.83,278.61 176.48,278.61 177.13,278.61 177.78,278.61 178.43,278.61 179.08,278.61 179.73,278.61 180.38,278.61 181.03,278.61 181.68,278.61 182.33,278.61 182.98,278.61 183.63,278.61 184.28,278.61 184.93,278.61 185.58,278.61 186.23,278.61 186.88,278.61 187.53,278.61 188.18,278.61 188.83,278.61 189.48,278.61 190.13,278.61 190.78,278.61 191.43,278.61 192.08,278.61 192.73,278.61 193.38,278.61 194.03,278.61 194.68,278.61 195.33,278.61 195.98,278.61 196.63,278.61 197.28,278.61 197.93,278.61 198.58,278.61 199.23,278.61 199.88,278.61 200.53,278.61 201.18,278.61 201.83,278.61 202.48,278.61 203.13,278.61 203.78,278.61 204.43,278.61 205.08,278.61 205.73,278.61 206.38,278.61 207.03,278.61 207.68,278.61 208.33,278.61 208.98,278.61 209.63,278.61 210.28,278.61 210.93,278.61 211.58,278.61 212.23,278.61 212.88,278.61" fill="none" stroke="#e3262c" stroke-width="1.7"/>
<text x="282.2" y="257.9" font-size="18" font-weight="bold" text-anchor="start" fill="#111" stroke="#111" stroke-width="0.45" >D</text>
<path d="M322.5,274.81 L325.9,274.81 L325.9,432.71 L503.26,432.71" fill="none" stroke="#222" stroke-width="1.6"/>
<line x1="322.5" y1="432.71" x2="325.9" y2="432.71" stroke="#222" stroke-width="1.5"/>
<text x="320.0" y="436.61428571428576" font-size="10.8" font-weight="bold" text-anchor="end" fill="#151515" stroke="#151515" stroke-width="0.27" >-40</text>
<line x1="322.5" y1="410.16" x2="325.9" y2="410.16" stroke="#222" stroke-width="1.5"/>
<text x="320.0" y="414.0571428571429" font-size="10.8" font-weight="bold" text-anchor="end" fill="#151515" stroke="#151515" stroke-width="0.27" >-20</text>
<line x1="322.5" y1="387.60" x2="325.9" y2="387.60" stroke="#222" stroke-width="1.5"/>
<text x="320.0" y="391.5" font-size="10.8" font-weight="bold" text-anchor="end" fill="#151515" stroke="#151515" stroke-width="0.27" >0</text>
<line x1="322.5" y1="365.04" x2="325.9" y2="365.04" stroke="#222" stroke-width="1.5"/>
<text x="320.0" y="368.9428571428571" font-size="10.8" font-weight="bold" text-anchor="end" fill="#151515" stroke="#151515" stroke-width="0.27" >20</text>
<line x1="322.5" y1="342.49" x2="325.9" y2="342.49" stroke="#222" stroke-width="1.5"/>
<text x="320.0" y="346.38571428571424" font-size="10.8" font-weight="bold" text-anchor="end" fill="#151515" stroke="#151515" stroke-width="0.27" >40</text>
<line x1="322.5" y1="319.93" x2="325.9" y2="319.93" stroke="#222" stroke-width="1.5"/>
<text x="320.0" y="323.8285714285714" font-size="10.8" font-weight="bold" text-anchor="end" fill="#151515" stroke="#151515" stroke-width="0.27" >60</text>
<line x1="322.5" y1="297.37" x2="325.9" y2="297.37" stroke="#222" stroke-width="1.5"/>
<text x="320.0" y="301.27142857142854" font-size="10.8" font-weight="bold" text-anchor="end" fill="#151515" stroke="#151515" stroke-width="0.27" >80</text>
<line x1="322.5" y1="274.81" x2="325.9" y2="274.81" stroke="#222" stroke-width="1.5"/>
<text x="320.0" y="278.71428571428567" font-size="10.8" font-weight="bold" text-anchor="end" fill="#151515" stroke="#151515" stroke-width="0.27" >100</text>
<line x1="325.90" y1="432.71" x2="325.90" y2="435.51" stroke="#222" stroke-width="1.5"/>
<text x="325.5" y="448.7142857142858" font-size="10.4" font-weight="bold" text-anchor="middle" fill="#151515" stroke="#151515" stroke-width="0.26" >-7</text>
<line x1="340.68" y1="432.71" x2="340.68" y2="435.51" stroke="#222" stroke-width="1.5"/>
<text x="340.28" y="448.7142857142858" font-size="10.4" font-weight="bold" text-anchor="middle" fill="#151515" stroke="#151515" stroke-width="0.26" >-6</text>
<line x1="355.46" y1="432.71" x2="355.46" y2="435.51" stroke="#222" stroke-width="1.5"/>
<text x="355.06" y="448.7142857142858" font-size="10.4" font-weight="bold" text-anchor="middle" fill="#151515" stroke="#151515" stroke-width="0.26" >-5</text>
<line x1="370.24" y1="432.71" x2="370.24" y2="435.51" stroke="#222" stroke-width="1.5"/>
<text x="369.84" y="448.7142857142858" font-size="10.4" font-weight="bold" text-anchor="middle" fill="#151515" stroke="#151515" stroke-width="0.26" >-4</text>
<line x1="385.02" y1="432.71" x2="385.02" y2="435.51" stroke="#222" stroke-width="1.5"/>
<text x="384.62" y="448.7142857142858" font-size="10.4" font-weight="bold" text-anchor="middle" fill="#151515" stroke="#151515" stroke-width="0.26" >-3</text>
<line x1="399.80" y1="432.71" x2="399.80" y2="435.51" stroke="#222" stroke-width="1.5"/>
<text x="399.4" y="448.7142857142858" font-size="10.4" font-weight="bold" text-anchor="middle" fill="#151515" stroke="#151515" stroke-width="0.26" >-2</text>
<line x1="414.58" y1="432.71" x2="414.58" y2="435.51" stroke="#222" stroke-width="1.5"/>
<text x="414.18" y="448.7142857142858" font-size="10.4" font-weight="bold" text-anchor="middle" fill="#151515" stroke="#151515" stroke-width="0.26" >-1</text>
<line x1="429.36" y1="432.71" x2="429.36" y2="435.51" stroke="#222" stroke-width="1.5"/>
<text x="428.96" y="448.7142857142858" font-size="10.4" font-weight="bold" text-anchor="middle" fill="#151515" stroke="#151515" stroke-width="0.26" >0</text>
<line x1="444.14" y1="432.71" x2="444.14" y2="435.51" stroke="#222" stroke-width="1.5"/>
<text x="443.74" y="448.7142857142858" font-size="10.4" font-weight="bold" text-anchor="middle" fill="#151515" stroke="#151515" stroke-width="0.26" >1</text>
<line x1="458.92" y1="432.71" x2="458.92" y2="435.51" stroke="#222" stroke-width="1.5"/>
<text x="458.52" y="448.7142857142858" font-size="10.4" font-weight="bold" text-anchor="middle" fill="#151515" stroke="#151515" stroke-width="0.26" >2</text>
<line x1="473.70" y1="432.71" x2="473.70" y2="435.51" stroke="#222" stroke-width="1.5"/>
<text x="473.29999999999995" y="448.7142857142858" font-size="10.4" font-weight="bold" text-anchor="middle" fill="#151515" stroke="#151515" stroke-width="0.26" >3</text>
<line x1="488.48" y1="432.71" x2="488.48" y2="435.51" stroke="#222" stroke-width="1.5"/>
<text x="488.08" y="448.7142857142858" font-size="10.4" font-weight="bold" text-anchor="middle" fill="#151515" stroke="#151515" stroke-width="0.26" >4</text>
<line x1="503.26" y1="432.71" x2="503.26" y2="435.51" stroke="#222" stroke-width="1.5"/>
<text x="502.86" y="448.7142857142858" font-size="10.4" font-weight="bold" text-anchor="middle" fill="#151515" stroke="#151515" stroke-width="0.26" >5</text>
<text x="354.2" y="464.3" font-size="11.3" font-weight="bold" text-anchor="start" fill="#151515" stroke="#151515" stroke-width="0.28" textLength="128.5" lengthAdjust="spacingAndGlyphs" >Log [XmAb] (pmol/L)</text>
<text x="296.8" y="394.2" font-size="12.5" font-weight="bold" text-anchor="start" fill="#151515" stroke="#151515" stroke-width="0.31" textLength="83.5" lengthAdjust="spacingAndGlyphs" transform="rotate(-90 296.8 394.2)">% Cytotoxicity</text>
<line x1="343" y1="258.7" x2="356" y2="258.7" stroke="#e3262c" stroke-width="1.8"/>
<circle cx="349.5" cy="258.7" r="1.9" fill="#e3262c"/>
<text x="362.6" y="262.4" font-size="10.2" font-weight="bold" text-anchor="start" fill="#151515" stroke="#151515" stroke-width="0.26" >1</text>
<line x1="343" y1="272.7" x2="356" y2="272.7" stroke="#9b32d2" stroke-width="1.8"/>
<circle cx="349.5" cy="272.7" r="1.9" fill="#9b32d2"/>
<text x="362.6" y="276.4" font-size="10.2" font-weight="bold" text-anchor="start" fill="#151515" stroke="#151515" stroke-width="0.26" >2</text>
<line x1="343" y1="286.9" x2="356" y2="286.9" stroke="#2fb53a" stroke-width="1.8"/>
<circle cx="349.5" cy="286.9" r="1.9" fill="#2fb53a"/>
<text x="362.6" y="290.59999999999997" font-size="10.2" font-weight="bold" text-anchor="start" fill="#151515" stroke="#151515" stroke-width="0.26" >4</text>
<line x1="343" y1="301.0" x2="356" y2="301.0" stroke="#1a1aa8" stroke-width="1.8"/>
<circle cx="349.5" cy="301.0" r="1.9" fill="#1a1aa8"/>
<text x="362.6" y="304.7" font-size="10.2" font-weight="bold" text-anchor="start" fill="#151515" stroke="#151515" stroke-width="0.26" textLength="48.6" lengthAdjust="spacingAndGlyphs" >AMG 424</text>
<line x1="343" y1="315.0" x2="356" y2="315.0" stroke="#f0932a" stroke-width="1.8"/>
<circle cx="349.5" cy="315.0" r="1.9" fill="#f0932a"/>
<text x="362.6" y="318.7" font-size="10.2" font-weight="bold" text-anchor="start" fill="#151515" stroke="#151515" stroke-width="0.26" >5</text>
<line x1="343" y1="328.8" x2="356" y2="328.8" stroke="#2a9fb5" stroke-width="1.8"/>
<circle cx="349.5" cy="328.8" r="1.9" fill="#2a9fb5"/>
<text x="362.6" y="332.5" font-size="10.2" font-weight="bold" text-anchor="start" fill="#151515" stroke="#151515" stroke-width="0.26" >7</text>
<circle cx="349.5" cy="343.4" r="1.7" fill="#8a8a8a"/>
<text x="362.6" y="347.09999999999997" font-size="10.2" font-weight="bold" text-anchor="start" fill="#151515" stroke="#151515" stroke-width="0.26" textLength="42.6" lengthAdjust="spacingAndGlyphs" >Neg Ctrl</text>
<line x1="502.23" y1="371.25" x2="502.23" y2="391.55" stroke="#8a8a8a" stroke-width="1.5"/>
<line x1="500.43" y1="371.25" x2="504.03" y2="371.25" stroke="#8a8a8a" stroke-width="1.8"/>
<line x1="500.43" y1="391.55" x2="504.03" y2="391.55" stroke="#8a8a8a" stroke-width="1.8"/>
<circle cx="502.23" cy="381.40" r="1.7" fill="#8a8a8a"/>
<line x1="495.18" y1="371.81" x2="495.18" y2="385.34" stroke="#8a8a8a" stroke-width="1.5"/>
<line x1="493.38" y1="371.81" x2="496.98" y2="371.81" stroke="#8a8a8a" stroke-width="1.8"/>
<line x1="493.38" y1="385.34" x2="496.98" y2="385.34" stroke="#8a8a8a" stroke-width="1.8"/>
<circle cx="495.18" cy="378.58" r="1.7" fill="#8a8a8a"/>
<line x1="488.13" y1="375.19" x2="488.13" y2="379.71" stroke="#8a8a8a" stroke-width="1.5"/>
<line x1="486.33" y1="375.19" x2="489.93" y2="375.19" stroke="#8a8a8a" stroke-width="1.8"/>
<line x1="486.33" y1="379.71" x2="489.93" y2="379.71" stroke="#8a8a8a" stroke-width="1.8"/>
<circle cx="488.13" cy="377.45" r="1.7" fill="#8a8a8a"/>
<line x1="481.08" y1="369.55" x2="481.08" y2="383.09" stroke="#8a8a8a" stroke-width="1.5"/>
<line x1="479.28" y1="369.55" x2="482.88" y2="369.55" stroke="#8a8a8a" stroke-width="1.8"/>
<line x1="479.28" y1="383.09" x2="482.88" y2="383.09" stroke="#8a8a8a" stroke-width="1.8"/>
<circle cx="481.08" cy="376.32" r="1.7" fill="#8a8a8a"/>
<line x1="502.23" y1="280.10" x2="502.23" y2="287.82" stroke="#f0932a" stroke-width="1.5"/>
<line x1="500.43" y1="280.10" x2="504.03" y2="280.10" stroke="#f0932a" stroke-width="1.8"/>
<line x1="500.43" y1="287.82" x2="504.03" y2="287.82" stroke="#f0932a" stroke-width="1.8"/>
<circle cx="502.23" cy="283.96" r="1.9" fill="#f0932a"/>
<line x1="495.18" y1="281.49" x2="495.18" y2="289.50" stroke="#f0932a" stroke-width="1.5"/>
<line x1="493.38" y1="281.49" x2="496.98" y2="281.49" stroke="#f0932a" stroke-width="1.8"/>
<line x1="493.38" y1="289.50" x2="496.98" y2="289.50" stroke="#f0932a" stroke-width="1.8"/>
<circle cx="495.18" cy="285.49" r="1.9" fill="#f0932a"/>
<line x1="488.13" y1="296.46" x2="488.13" y2="308.32" stroke="#f0932a" stroke-width="1.5"/>
<line x1="486.33" y1="296.46" x2="489.93" y2="296.46" stroke="#f0932a" stroke-width="1.8"/>
<line x1="486.33" y1="308.32" x2="489.93" y2="308.32" stroke="#f0932a" stroke-width="1.8"/>
<circle cx="488.13" cy="302.39" r="1.9" fill="#f0932a"/>
<line x1="481.08" y1="353.39" x2="481.08" y2="367.94" stroke="#f0932a" stroke-width="1.5"/>
<line x1="479.28" y1="353.39" x2="482.88" y2="353.39" stroke="#f0932a" stroke-width="1.8"/>
<line x1="479.28" y1="367.94" x2="482.88" y2="367.94" stroke="#f0932a" stroke-width="1.8"/>
<circle cx="481.08" cy="360.67" r="1.9" fill="#f0932a"/>
<line x1="474.03" y1="366.20" x2="474.03" y2="414.55" stroke="#f0932a" stroke-width="1.5"/>
<line x1="472.23" y1="366.20" x2="475.83" y2="366.20" stroke="#f0932a" stroke-width="1.8"/>
<line x1="472.23" y1="414.55" x2="475.83" y2="414.55" stroke="#f0932a" stroke-width="1.8"/>
<circle cx="474.03" cy="390.37" r="1.9" fill="#f0932a"/>
<line x1="466.98" y1="365.94" x2="466.98" y2="402.97" stroke="#f0932a" stroke-width="1.5"/>
<line x1="465.18" y1="365.94" x2="468.78" y2="365.94" stroke="#f0932a" stroke-width="1.8"/>
<line x1="465.18" y1="402.97" x2="468.78" y2="402.97" stroke="#f0932a" stroke-width="1.8"/>
<circle cx="466.98" cy="384.46" r="1.9" fill="#f0932a"/>
<line x1="459.93" y1="365.09" x2="459.93" y2="404.78" stroke="#f0932a" stroke-width="1.5"/>
<line x1="458.13" y1="365.09" x2="461.73" y2="365.09" stroke="#f0932a" stroke-width="1.8"/>
<line x1="458.13" y1="404.78" x2="461.73" y2="404.78" stroke="#f0932a" stroke-width="1.8"/>
<circle cx="459.93" cy="384.93" r="1.9" fill="#f0932a"/>
<line x1="452.87" y1="378.58" x2="452.87" y2="418.99" stroke="#f0932a" stroke-width="1.5"/>
<line x1="451.07" y1="378.58" x2="454.67" y2="378.58" stroke="#f0932a" stroke-width="1.8"/>
<line x1="451.07" y1="418.99" x2="454.67" y2="418.99" stroke="#f0932a" stroke-width="1.8"/>
<circle cx="452.87" cy="398.79" r="1.9" fill="#f0932a"/>
<line x1="445.82" y1="367.31" x2="445.82" y2="413.19" stroke="#f0932a" stroke-width="1.5"/>
<line x1="444.02" y1="367.31" x2="447.62" y2="367.31" stroke="#f0932a" stroke-width="1.8"/>
<line x1="444.02" y1="413.19" x2="447.62" y2="413.19" stroke="#f0932a" stroke-width="1.8"/>
<circle cx="445.82" cy="390.25" r="1.9" fill="#f0932a"/>
<line x1="438.77" y1="382.62" x2="438.77" y2="410.48" stroke="#f0932a" stroke-width="1.5"/>
<line x1="436.97" y1="382.62" x2="440.57" y2="382.62" stroke="#f0932a" stroke-width="1.8"/>
<line x1="436.97" y1="410.48" x2="440.57" y2="410.48" stroke="#f0932a" stroke-width="1.8"/>
<circle cx="438.77" cy="396.55" r="1.9" fill="#f0932a"/>
<line x1="431.72" y1="367.91" x2="431.72" y2="412.79" stroke="#f0932a" stroke-width="1.5"/>
<line x1="429.92" y1="367.91" x2="433.52" y2="367.91" stroke="#f0932a" stroke-width="1.8"/>
<line x1="429.92" y1="412.79" x2="433.52" y2="412.79" stroke="#f0932a" stroke-width="1.8"/>
<circle cx="431.72" cy="390.35" r="1.9" fill="#f0932a"/>
<line x1="424.67" y1="363.50" x2="424.67" y2="411.17" stroke="#f0932a" stroke-width="1.5"/>
<line x1="422.87" y1="363.50" x2="426.47" y2="363.50" stroke="#f0932a" stroke-width="1.8"/>
<line x1="422.87" y1="411.17" x2="426.47" y2="411.17" stroke="#f0932a" stroke-width="1.8"/>
<circle cx="424.67" cy="387.33" r="1.9" fill="#f0932a"/>
<line x1="417.62" y1="366.41" x2="417.62" y2="414.81" stroke="#f0932a" stroke-width="1.5"/>
<line x1="415.82" y1="366.41" x2="419.42" y2="366.41" stroke="#f0932a" stroke-width="1.8"/>
<line x1="415.82" y1="414.81" x2="419.42" y2="414.81" stroke="#f0932a" stroke-width="1.8"/>
<circle cx="417.62" cy="390.61" r="1.9" fill="#f0932a"/>
<line x1="410.57" y1="369.84" x2="410.57" y2="409.94" stroke="#f0932a" stroke-width="1.5"/>
<line x1="408.77" y1="369.84" x2="412.37" y2="369.84" stroke="#f0932a" stroke-width="1.8"/>
<line x1="408.77" y1="409.94" x2="412.37" y2="409.94" stroke="#f0932a" stroke-width="1.8"/>
<circle cx="410.57" cy="389.89" r="1.9" fill="#f0932a"/>
<line x1="403.52" y1="371.35" x2="403.52" y2="397.55" stroke="#f0932a" stroke-width="1.5"/>
<line x1="401.72" y1="371.35" x2="405.32" y2="371.35" stroke="#f0932a" stroke-width="1.8"/>
<line x1="401.72" y1="397.55" x2="405.32" y2="397.55" stroke="#f0932a" stroke-width="1.8"/>
<circle cx="403.52" cy="384.45" r="1.9" fill="#f0932a"/>
<line x1="396.47" y1="373.26" x2="396.47" y2="401.18" stroke="#f0932a" stroke-width="1.5"/>
<line x1="394.67" y1="373.26" x2="398.27" y2="373.26" stroke="#f0932a" stroke-width="1.8"/>
<line x1="394.67" y1="401.18" x2="398.27" y2="401.18" stroke="#f0932a" stroke-width="1.8"/>
<circle cx="396.47" cy="387.22" r="1.9" fill="#f0932a"/>
<line x1="389.42" y1="365.18" x2="389.42" y2="413.37" stroke="#f0932a" stroke-width="1.5"/>
<line x1="387.62" y1="365.18" x2="391.22" y2="365.18" stroke="#f0932a" stroke-width="1.8"/>
<line x1="387.62" y1="413.37" x2="391.22" y2="413.37" stroke="#f0932a" stroke-width="1.8"/>
<circle cx="389.42" cy="389.28" r="1.9" fill="#f0932a"/>
<line x1="382.37" y1="375.26" x2="382.37" y2="397.79" stroke="#f0932a" stroke-width="1.5"/>
<line x1="380.57" y1="375.26" x2="384.17" y2="375.26" stroke="#f0932a" stroke-width="1.8"/>
<line x1="380.57" y1="397.79" x2="384.17" y2="397.79" stroke="#f0932a" stroke-width="1.8"/>
<circle cx="382.37" cy="386.52" r="1.9" fill="#f0932a"/>
<line x1="375.32" y1="377.07" x2="375.32" y2="416.20" stroke="#f0932a" stroke-width="1.5"/>
<line x1="373.52" y1="377.07" x2="377.12" y2="377.07" stroke="#f0932a" stroke-width="1.8"/>
<line x1="373.52" y1="416.20" x2="377.12" y2="416.20" stroke="#f0932a" stroke-width="1.8"/>
<circle cx="375.32" cy="396.63" r="1.9" fill="#f0932a"/>
<line x1="368.27" y1="381.36" x2="368.27" y2="400.96" stroke="#f0932a" stroke-width="1.5"/>
<line x1="366.47" y1="381.36" x2="370.07" y2="381.36" stroke="#f0932a" stroke-width="1.8"/>
<line x1="366.47" y1="400.96" x2="370.07" y2="400.96" stroke="#f0932a" stroke-width="1.8"/>
<circle cx="368.27" cy="391.16" r="1.9" fill="#f0932a"/>
<line x1="361.22" y1="375.42" x2="361.22" y2="394.48" stroke="#f0932a" stroke-width="1.5"/>
<line x1="359.42" y1="375.42" x2="363.02" y2="375.42" stroke="#f0932a" stroke-width="1.8"/>
<line x1="359.42" y1="394.48" x2="363.02" y2="394.48" stroke="#f0932a" stroke-width="1.8"/>
<circle cx="361.22" cy="384.95" r="1.9" fill="#f0932a"/>
<line x1="354.17" y1="374.37" x2="354.17" y2="408.40" stroke="#f0932a" stroke-width="1.5"/>
<line x1="352.37" y1="374.37" x2="355.97" y2="374.37" stroke="#f0932a" stroke-width="1.8"/>
<line x1="352.37" y1="408.40" x2="355.97" y2="408.40" stroke="#f0932a" stroke-width="1.8"/>
<circle cx="354.17" cy="391.39" r="1.9" fill="#f0932a"/>
<polyline points="354.17,391.66 354.77,391.66 355.36,391.66 355.95,391.66 356.54,391.66 357.13,391.66 357.72,391.66 358.31,391.66 358.90,391.66 359.49,391.66 360.09,391.66 360.68,391.66 361.27,391.66 361.86,391.66 362.45,391.66 363.04,391.66 363.63,391.66 364.22,391.66 364.82,391.66 365.41,391.66 366.00,391.66 366.59,391.66 367.18,391.66 367.77,391.66 368.36,391.66 368.95,391.66 369.55,391.66 370.14,391.66 370.73,391.66 371.32,391.66 371.91,391.66 372.50,391.66 373.09,391.66 373.68,391.66 374.27,391.66 374.87,391.66 375.46,391.66 376.05,391.66 376.64,391.66 377.23,391.66 377.82,391.66 378.41,391.66 379.00,391.66 379.60,391.66 380.19,391.66 380.78,391.66 381.37,391.66 381.96,391.66 382.55,391.66 383.14,391.66 383.73,391.66 384.33,391.66 384.92,391.66 385.51,391.66 386.10,391.66 386.69,391.66 387.28,391.66 387.87,391.66 388.46,391.66 389.05,391.66 389.65,391.66 390.24,391.66 390.83,391.66 391.42,391.66 392.01,391.66 392.60,391.66 393.19,391.66 393.78,391.66 394.38,391.66 394.97,391.66 395.56,391.66 396.15,391.66 396.74,391.66 397.33,391.66 397.92,391.66 398.51,391.66 399.11,391.66 399.70,391.66 400.29,391.66 400.88,391.66 401.47,391.66 402.06,391.66 402.65,391.66 403.24,391.66 403.83,391.66 404.43,391.66 405.02,391.66 405.61,391.66 406.20,391.66 406.79,391.66 407.38,391.66 407.97,391.66 408.56,391.66 409.16,391.66 409.75,391.66 410.34,391.66 410.93,391.66 411.52,391.66 412.11,391.66 412.70,391.66 413.29,391.66 413.89,391.66 414.48,391.66 415.07,391.66 415.66,391.66 416.25,391.66 416.84,391.66 417.43,391.66 418.02,391.66 418.61,391.66 419.21,391.66 419.80,391.66 420.39,391.66 420.98,391.66 421.57,391.66 422.16,391.66 422.75,391.66 423.34,391.66 423.94,391.66 424.53,391.66 425.12,391.66 425.71,391.66 426.30,391.66 426.89,391.66 427.48,391.66 428.07,391.66 428.67,391.66 429.26,391.66 429.85,391.66 430.44,391.66 431.03,391.66 431.62,391.66 432.21,391.66 432.80,391.66 433.39,391.66 433.99,391.66 434.58,391.66 435.17,391.66 435.76,391.66 436.35,391.66 436.94,391.66 437.53,391.66 438.12,391.66 438.72,391.66 439.31,391.66 439.90,391.66 440.49,391.66 441.08,391.66 441.67,391.66 442.26,391.66 442.85,391.66 443.45,391.66 444.04,391.66 444.63,391.66 445.22,391.66 445.81,391.66 446.40,391.66 446.99,391.66 447.58,391.66 448.17,391.66 448.77,391.66 449.36,391.66 449.95,391.66 450.54,391.66 451.13,391.66 451.72,391.66 452.31,391.66 452.90,391.66 453.50,391.66 454.09,391.66 454.68,391.65 455.27,391.65 455.86,391.65 456.45,391.65 457.04,391.65 457.63,391.64 458.23,391.64 458.82,391.64 459.41,391.63 460.00,391.63 460.59,391.62 461.18,391.61 461.77,391.60 462.36,391.58 462.95,391.56 463.55,391.54 464.14,391.52 464.73,391.48 465.32,391.44 465.91,391.39 466.50,391.33 467.09,391.26 467.68,391.17 468.28,391.06 468.87,390.93 469.46,390.77 470.05,390.57 470.64,390.33 471.23,390.03 471.82,389.67 472.41,389.24 473.01,388.71 473.60,388.07 474.19,387.29 474.78,386.36 475.37,385.24 475.96,383.90 476.55,382.31 477.14,380.43 477.73,378.21 478.33,375.64 478.92,372.67 479.51,369.28 480.10,365.46 480.69,361.22 481.28,356.58 481.87,351.60 482.46,346.34 483.06,340.90 483.65,335.39 484.24,329.92 484.83,324.59 485.42,319.50 486.01,314.73 486.60,310.35 487.19,306.38 487.79,302.84 488.38,299.73 488.97,297.01 489.56,294.68 490.15,292.68 490.74,290.99 491.33,289.57 491.92,288.38 492.51,287.38 493.11,286.56 493.70,285.87 494.29,285.30 494.88,284.84 495.47,284.45 496.06,284.14 496.65,283.88 497.24,283.67 497.84,283.49 498.43,283.35 499.02,283.23 499.61,283.14 500.20,283.06 500.79,282.99 501.38,282.94 501.97,282.90" fill="none" stroke="#f0932a" stroke-width="1.7"/>
<line x1="488.13" y1="272.98" x2="488.13" y2="286.16" stroke="#2a9fb5" stroke-width="1.5"/>
<line x1="486.33" y1="272.98" x2="489.93" y2="272.98" stroke="#2a9fb5" stroke-width="1.8"/>
<line x1="486.33" y1="286.16" x2="489.93" y2="286.16" stroke="#2a9fb5" stroke-width="1.8"/>
<circle cx="488.13" cy="279.57" r="1.9" fill="#2a9fb5"/>
<line x1="481.08" y1="279.45" x2="481.08" y2="281.86" stroke="#2a9fb5" stroke-width="1.5"/>
<line x1="479.28" y1="279.45" x2="482.88" y2="279.45" stroke="#2a9fb5" stroke-width="1.8"/>
<line x1="479.28" y1="281.86" x2="482.88" y2="281.86" stroke="#2a9fb5" stroke-width="1.8"/>
<circle cx="481.08" cy="280.65" r="1.9" fill="#2a9fb5"/>
<line x1="474.03" y1="281.48" x2="474.03" y2="282.54" stroke="#2a9fb5" stroke-width="1.5"/>
<line x1="472.23" y1="281.48" x2="475.83" y2="281.48" stroke="#2a9fb5" stroke-width="1.8"/>
<line x1="472.23" y1="282.54" x2="475.83" y2="282.54" stroke="#2a9fb5" stroke-width="1.8"/>
<circle cx="474.03" cy="282.01" r="1.9" fill="#2a9fb5"/>
<line x1="466.98" y1="300.78" x2="466.98" y2="310.30" stroke="#2a9fb5" stroke-width="1.5"/>
<line x1="465.18" y1="300.78" x2="468.78" y2="300.78" stroke="#2a9fb5" stroke-width="1.8"/>
<line x1="465.18" y1="310.30" x2="468.78" y2="310.30" stroke="#2a9fb5" stroke-width="1.8"/>
<circle cx="466.98" cy="305.54" r="1.9" fill="#2a9fb5"/>
<line x1="459.93" y1="369.61" x2="459.93" y2="379.25" stroke="#2a9fb5" stroke-width="1.5"/>
<line x1="458.13" y1="369.61" x2="461.73" y2="369.61" stroke="#2a9fb5" stroke-width="1.8"/>
<line x1="458.13" y1="379.25" x2="461.73" y2="379.25" stroke="#2a9fb5" stroke-width="1.8"/>
<circle cx="459.93" cy="374.43" r="1.9" fill="#2a9fb5"/>
<line x1="452.87" y1="367.05" x2="452.87" y2="384.96" stroke="#2a9fb5" stroke-width="1.5"/>
<line x1="451.07" y1="367.05" x2="454.67" y2="367.05" stroke="#2a9fb5" stroke-width="1.8"/>
<line x1="451.07" y1="384.96" x2="454.67" y2="384.96" stroke="#2a9fb5" stroke-width="1.8"/>
<circle cx="452.87" cy="376.00" r="1.9" fill="#2a9fb5"/>
<line x1="445.82" y1="365.84" x2="445.82" y2="392.08" stroke="#2a9fb5" stroke-width="1.5"/>
<line x1="444.02" y1="365.84" x2="447.62" y2="365.84" stroke="#2a9fb5" stroke-width="1.8"/>
<line x1="444.02" y1="392.08" x2="447.62" y2="392.08" stroke="#2a9fb5" stroke-width="1.8"/>
<circle cx="445.82" cy="378.96" r="1.9" fill="#2a9fb5"/>
<line x1="438.77" y1="364.05" x2="438.77" y2="398.05" stroke="#2a9fb5" stroke-width="1.5"/>
<line x1="436.97" y1="364.05" x2="440.57" y2="364.05" stroke="#2a9fb5" stroke-width="1.8"/>
<line x1="436.97" y1="398.05" x2="440.57" y2="398.05" stroke="#2a9fb5" stroke-width="1.8"/>
<circle cx="438.77" cy="381.05" r="1.9" fill="#2a9fb5"/>
<line x1="431.72" y1="366.70" x2="431.72" y2="383.92" stroke="#2a9fb5" stroke-width="1.5"/>
<line x1="429.92" y1="366.70" x2="433.52" y2="366.70" stroke="#2a9fb5" stroke-width="1.8"/>
<line x1="429.92" y1="383.92" x2="433.52" y2="383.92" stroke="#2a9fb5" stroke-width="1.8"/>
<circle cx="431.72" cy="375.31" r="1.9" fill="#2a9fb5"/>
<line x1="424.67" y1="361.80" x2="424.67" y2="392.21" stroke="#2a9fb5" stroke-width="1.5"/>
<line x1="422.87" y1="361.80" x2="426.47" y2="361.80" stroke="#2a9fb5" stroke-width="1.8"/>
<line x1="422.87" y1="392.21" x2="426.47" y2="392.21" stroke="#2a9fb5" stroke-width="1.8"/>
<circle cx="424.67" cy="377.00" r="1.9" fill="#2a9fb5"/>
<line x1="417.62" y1="357.17" x2="417.62" y2="388.37" stroke="#2a9fb5" stroke-width="1.5"/>
<line x1="415.82" y1="357.17" x2="419.42" y2="357.17" stroke="#2a9fb5" stroke-width="1.8"/>
<line x1="415.82" y1="388.37" x2="419.42" y2="388.37" stroke="#2a9fb5" stroke-width="1.8"/>
<circle cx="417.62" cy="372.77" r="1.9" fill="#2a9fb5"/>
<line x1="410.57" y1="363.23" x2="410.57" y2="388.02" stroke="#2a9fb5" stroke-width="1.5"/>
<line x1="408.77" y1="363.23" x2="412.37" y2="363.23" stroke="#2a9fb5" stroke-width="1.8"/>
<line x1="408.77" y1="388.02" x2="412.37" y2="388.02" stroke="#2a9fb5" stroke-width="1.8"/>
<circle cx="410.57" cy="375.63" r="1.9" fill="#2a9fb5"/>
<line x1="403.52" y1="365.70" x2="403.52" y2="390.64" stroke="#2a9fb5" stroke-width="1.5"/>
<line x1="401.72" y1="365.70" x2="405.32" y2="365.70" stroke="#2a9fb5" stroke-width="1.8"/>
<line x1="401.72" y1="390.64" x2="405.32" y2="390.64" stroke="#2a9fb5" stroke-width="1.8"/>
<circle cx="403.52" cy="378.17" r="1.9" fill="#2a9fb5"/>
<line x1="396.47" y1="365.56" x2="396.47" y2="397.74" stroke="#2a9fb5" stroke-width="1.5"/>
<line x1="394.67" y1="365.56" x2="398.27" y2="365.56" stroke="#2a9fb5" stroke-width="1.8"/>
<line x1="394.67" y1="397.74" x2="398.27" y2="397.74" stroke="#2a9fb5" stroke-width="1.8"/>
<circle cx="396.47" cy="381.65" r="1.9" fill="#2a9fb5"/>
<line x1="389.42" y1="370.53" x2="389.42" y2="388.45" stroke="#2a9fb5" stroke-width="1.5"/>
<line x1="387.62" y1="370.53" x2="391.22" y2="370.53" stroke="#2a9fb5" stroke-width="1.8"/>
<line x1="387.62" y1="388.45" x2="391.22" y2="388.45" stroke="#2a9fb5" stroke-width="1.8"/>
<circle cx="389.42" cy="379.49" r="1.9" fill="#2a9fb5"/>
<line x1="382.37" y1="361.11" x2="382.37" y2="394.72" stroke="#2a9fb5" stroke-width="1.5"/>
<line x1="380.57" y1="361.11" x2="384.17" y2="361.11" stroke="#2a9fb5" stroke-width="1.8"/>
<line x1="380.57" y1="394.72" x2="384.17" y2="394.72" stroke="#2a9fb5" stroke-width="1.8"/>
<circle cx="382.37" cy="377.91" r="1.9" fill="#2a9fb5"/>
<line x1="375.32" y1="363.77" x2="375.32" y2="390.66" stroke="#2a9fb5" stroke-width="1.5"/>
<line x1="373.52" y1="363.77" x2="377.12" y2="363.77" stroke="#2a9fb5" stroke-width="1.8"/>
<line x1="373.52" y1="390.66" x2="377.12" y2="390.66" stroke="#2a9fb5" stroke-width="1.8"/>
<circle cx="375.32" cy="377.21" r="1.9" fill="#2a9fb5"/>
<line x1="368.27" y1="373.34" x2="368.27" y2="393.65" stroke="#2a9fb5" stroke-width="1.5"/>
<line x1="366.47" y1="373.34" x2="370.07" y2="373.34" stroke="#2a9fb5" stroke-width="1.8"/>
<line x1="366.47" y1="393.65" x2="370.07" y2="393.65" stroke="#2a9fb5" stroke-width="1.8"/>
<circle cx="368.27" cy="383.49" r="1.9" fill="#2a9fb5"/>
<line x1="361.22" y1="362.96" x2="361.22" y2="386.77" stroke="#2a9fb5" stroke-width="1.5"/>
<line x1="359.42" y1="362.96" x2="363.02" y2="362.96" stroke="#2a9fb5" stroke-width="1.8"/>
<line x1="359.42" y1="386.77" x2="363.02" y2="386.77" stroke="#2a9fb5" stroke-width="1.8"/>
<circle cx="361.22" cy="374.87" r="1.9" fill="#2a9fb5"/>
<line x1="354.17" y1="374.04" x2="354.17" y2="394.68" stroke="#2a9fb5" stroke-width="1.5"/>
<line x1="352.37" y1="374.04" x2="355.97" y2="374.04" stroke="#2a9fb5" stroke-width="1.8"/>
<line x1="352.37" y1="394.68" x2="355.97" y2="394.68" stroke="#2a9fb5" stroke-width="1.8"/>
<circle cx="354.17" cy="384.36" r="1.9" fill="#2a9fb5"/>
<polyline points="354.17,379.14 354.77,379.14 355.36,379.14 355.95,379.14 356.54,379.14 357.13,379.14 357.72,379.14 358.31,379.14 358.90,379.14 359.49,379.14 360.09,379.14 360.68,379.14 361.27,379.14 361.86,379.14 362.45,379.14 363.04,379.14 363.63,379.14 364.22,379.14 364.82,379.14 365.41,379.14 366.00,379.14 366.59,379.14 367.18,379.14 367.77,379.14 368.36,379.14 368.95,379.14 369.55,379.14 370.14,379.14 370.73,379.14 371.32,379.14 371.91,379.14 372.50,379.14 373.09,379.14 373.68,379.14 374.27,379.14 374.87,379.14 375.46,379.14 376.05,379.14 376.64,379.14 377.23,379.14 377.82,379.14 378.41,379.14 379.00,379.14 379.60,379.14 380.19,379.14 380.78,379.14 381.37,379.14 381.96,379.14 382.55,379.14 383.14,379.14 383.73,379.14 384.33,379.14 384.92,379.14 385.51,379.14 386.10,379.14 386.69,379.14 387.28,379.14 387.87,379.14 388.46,379.14 389.05,379.14 389.65,379.14 390.24,379.14 390.83,379.14 391.42,379.14 392.01,379.14 392.60,379.14 393.19,379.14 393.78,379.14 394.38,379.14 394.97,379.14 395.56,379.14 396.15,379.14 396.74,379.14 397.33,379.14 397.92,379.14 398.51,379.14 399.11,379.14 399.70,379.14 400.29,379.14 400.88,379.14 401.47,379.14 402.06,379.14 402.65,379.14 403.24,379.14 403.83,379.14 404.43,379.14 405.02,379.14 405.61,379.14 406.20,379.14 406.79,379.14 407.38,379.14 407.97,379.14 408.56,379.14 409.16,379.14 409.75,379.14 410.34,379.14 410.93,379.14 411.52,379.14 412.11,379.14 412.70,379.14 413.29,379.14 413.89,379.14 414.48,379.14 415.07,379.14 415.66,379.14 416.25,379.14 416.84,379.14 417.43,379.14 418.02,379.14 418.61,379.14 419.21,379.14 419.80,379.14 420.39,379.14 420.98,379.14 421.57,379.14 422.16,379.14 422.75,379.14 423.34,379.14 423.94,379.14 424.53,379.14 425.12,379.14 425.71,379.14 426.30,379.14 426.89,379.14 427.48,379.14 428.07,379.14 428.67,379.14 429.26,379.14 429.85,379.14 430.44,379.14 431.03,379.14 431.62,379.14 432.21,379.14 432.80,379.14 433.39,379.14 433.99,379.14 434.58,379.14 435.17,379.14 435.76,379.14 436.35,379.14 436.94,379.14 437.53,379.14 438.12,379.14 438.72,379.14 439.31,379.14 439.90,379.14 440.49,379.14 441.08,379.14 441.67,379.14 442.26,379.14 442.85,379.14 443.45,379.14 444.04,379.14 444.63,379.14 445.22,379.13 445.81,379.13 446.40,379.13 446.99,379.13 447.58,379.12 448.17,379.11 448.77,379.10 449.36,379.09 449.95,379.07 450.54,379.05 451.13,379.02 451.72,378.98 452.31,378.92 452.90,378.84 453.50,378.74 454.09,378.60 454.68,378.42 455.27,378.18 455.86,377.85 456.45,377.42 457.04,376.84 457.63,376.08 458.23,375.07 458.82,373.75 459.41,372.04 460.00,369.83 460.59,367.03 461.18,363.54 461.77,359.27 462.36,354.18 462.95,348.30 463.55,341.74 464.14,334.69 464.73,327.44 465.32,320.28 465.91,313.52 466.50,307.38 467.09,302.01 467.68,297.46 468.28,293.70 468.87,290.67 469.46,288.27 470.05,286.39 470.64,284.95 471.23,283.84 471.82,283.00 472.41,282.36 473.01,281.88 473.60,281.52 474.19,281.25 474.78,281.05 475.37,280.90 475.96,280.78 476.55,280.70 477.14,280.64 477.73,280.59 478.33,280.56 478.92,280.53 479.51,280.51 480.10,280.50 480.69,280.48 481.28,280.48 481.87,280.47 482.46,280.47 483.06,280.46 483.65,280.46 484.24,280.46 484.83,280.46 485.42,280.46 486.01,280.46 486.60,280.46 487.19,280.45 487.79,280.45" fill="none" stroke="#2a9fb5" stroke-width="1.7"/>
<line x1="502.23" y1="279.60" x2="502.23" y2="282.74" stroke="#1a1aa8" stroke-width="1.5"/>
<line x1="500.43" y1="279.60" x2="504.03" y2="279.60" stroke="#1a1aa8" stroke-width="1.8"/>
<line x1="500.43" y1="282.74" x2="504.03" y2="282.74" stroke="#1a1aa8" stroke-width="1.8"/>
<circle cx="502.23" cy="281.17" r="1.9" fill="#1a1aa8"/>
<line x1="495.18" y1="276.03" x2="495.18" y2="284.11" stroke="#1a1aa8" stroke-width="1.5"/>
<line x1="493.38" y1="276.03" x2="496.98" y2="276.03" stroke="#1a1aa8" stroke-width="1.8"/>
<line x1="493.38" y1="284.11" x2="496.98" y2="284.11" stroke="#1a1aa8" stroke-width="1.8"/>
<circle cx="495.18" cy="280.07" r="1.9" fill="#1a1aa8"/>
<line x1="488.13" y1="279.79" x2="488.13" y2="282.69" stroke="#1a1aa8" stroke-width="1.5"/>
<line x1="486.33" y1="279.79" x2="489.93" y2="279.79" stroke="#1a1aa8" stroke-width="1.8"/>
<line x1="486.33" y1="282.69" x2="489.93" y2="282.69" stroke="#1a1aa8" stroke-width="1.8"/>
<circle cx="488.13" cy="281.24" r="1.9" fill="#1a1aa8"/>
<line x1="481.08" y1="278.45" x2="481.08" y2="281.25" stroke="#1a1aa8" stroke-width="1.5"/>
<line x1="479.28" y1="278.45" x2="482.88" y2="278.45" stroke="#1a1aa8" stroke-width="1.8"/>
<line x1="479.28" y1="281.25" x2="482.88" y2="281.25" stroke="#1a1aa8" stroke-width="1.8"/>
<circle cx="481.08" cy="279.85" r="1.9" fill="#1a1aa8"/>
<line x1="474.03" y1="277.77" x2="474.03" y2="280.98" stroke="#1a1aa8" stroke-width="1.5"/>
<line x1="472.23" y1="277.77" x2="475.83" y2="277.77" stroke="#1a1aa8" stroke-width="1.8"/>
<line x1="472.23" y1="280.98" x2="475.83" y2="280.98" stroke="#1a1aa8" stroke-width="1.8"/>
<circle cx="474.03" cy="279.37" r="1.9" fill="#1a1aa8"/>
<line x1="466.98" y1="278.99" x2="466.98" y2="281.18" stroke="#1a1aa8" stroke-width="1.5"/>
<line x1="465.18" y1="278.99" x2="468.78" y2="278.99" stroke="#1a1aa8" stroke-width="1.8"/>
<line x1="465.18" y1="281.18" x2="468.78" y2="281.18" stroke="#1a1aa8" stroke-width="1.8"/>
<circle cx="466.98" cy="280.08" r="1.9" fill="#1a1aa8"/>
<line x1="459.93" y1="293.02" x2="459.93" y2="305.87" stroke="#1a1aa8" stroke-width="1.5"/>
<line x1="458.13" y1="293.02" x2="461.73" y2="293.02" stroke="#1a1aa8" stroke-width="1.8"/>
<line x1="458.13" y1="305.87" x2="461.73" y2="305.87" stroke="#1a1aa8" stroke-width="1.8"/>
<circle cx="459.93" cy="299.45" r="1.9" fill="#1a1aa8"/>
<line x1="452.87" y1="363.89" x2="452.87" y2="371.83" stroke="#1a1aa8" stroke-width="1.5"/>
<line x1="451.07" y1="363.89" x2="454.67" y2="363.89" stroke="#1a1aa8" stroke-width="1.8"/>
<line x1="451.07" y1="371.83" x2="454.67" y2="371.83" stroke="#1a1aa8" stroke-width="1.8"/>
<circle cx="452.87" cy="367.86" r="1.9" fill="#1a1aa8"/>
<line x1="445.82" y1="371.65" x2="445.82" y2="389.55" stroke="#1a1aa8" stroke-width="1.5"/>
<line x1="444.02" y1="371.65" x2="447.62" y2="371.65" stroke="#1a1aa8" stroke-width="1.8"/>
<line x1="444.02" y1="389.55" x2="447.62" y2="389.55" stroke="#1a1aa8" stroke-width="1.8"/>
<circle cx="445.82" cy="380.60" r="1.9" fill="#1a1aa8"/>
<line x1="438.77" y1="370.82" x2="438.77" y2="407.53" stroke="#1a1aa8" stroke-width="1.5"/>
<line x1="436.97" y1="370.82" x2="440.57" y2="370.82" stroke="#1a1aa8" stroke-width="1.8"/>
<line x1="436.97" y1="407.53" x2="440.57" y2="407.53" stroke="#1a1aa8" stroke-width="1.8"/>
<circle cx="438.77" cy="389.17" r="1.9" fill="#1a1aa8"/>
<line x1="431.72" y1="375.24" x2="431.72" y2="399.14" stroke="#1a1aa8" stroke-width="1.5"/>
<line x1="429.92" y1="375.24" x2="433.52" y2="375.24" stroke="#1a1aa8" stroke-width="1.8"/>
<line x1="429.92" y1="399.14" x2="433.52" y2="399.14" stroke="#1a1aa8" stroke-width="1.8"/>
<circle cx="431.72" cy="387.19" r="1.9" fill="#1a1aa8"/>
<line x1="424.67" y1="371.73" x2="424.67" y2="400.98" stroke="#1a1aa8" stroke-width="1.5"/>
<line x1="422.87" y1="371.73" x2="426.47" y2="371.73" stroke="#1a1aa8" stroke-width="1.8"/>
<line x1="422.87" y1="400.98" x2="426.47" y2="400.98" stroke="#1a1aa8" stroke-width="1.8"/>
<circle cx="424.67" cy="386.35" r="1.9" fill="#1a1aa8"/>
<line x1="417.62" y1="359.83" x2="417.62" y2="397.79" stroke="#1a1aa8" stroke-width="1.5"/>
<line x1="415.82" y1="359.83" x2="419.42" y2="359.83" stroke="#1a1aa8" stroke-width="1.8"/>
<line x1="415.82" y1="397.79" x2="419.42" y2="397.79" stroke="#1a1aa8" stroke-width="1.8"/>
<circle cx="417.62" cy="378.81" r="1.9" fill="#1a1aa8"/>
<line x1="410.57" y1="367.39" x2="410.57" y2="391.03" stroke="#1a1aa8" stroke-width="1.5"/>
<line x1="408.77" y1="367.39" x2="412.37" y2="367.39" stroke="#1a1aa8" stroke-width="1.8"/>
<line x1="408.77" y1="391.03" x2="412.37" y2="391.03" stroke="#1a1aa8" stroke-width="1.8"/>
<circle cx="410.57" cy="379.21" r="1.9" fill="#1a1aa8"/>
<line x1="403.52" y1="381.25" x2="403.52" y2="398.77" stroke="#1a1aa8" stroke-width="1.5"/>
<line x1="401.72" y1="381.25" x2="405.32" y2="381.25" stroke="#1a1aa8" stroke-width="1.8"/>
<line x1="401.72" y1="398.77" x2="405.32" y2="398.77" stroke="#1a1aa8" stroke-width="1.8"/>
<circle cx="403.52" cy="390.01" r="1.9" fill="#1a1aa8"/>
<line x1="396.47" y1="364.36" x2="396.47" y2="396.65" stroke="#1a1aa8" stroke-width="1.5"/>
<line x1="394.67" y1="364.36" x2="398.27" y2="364.36" stroke="#1a1aa8" stroke-width="1.8"/>
<line x1="394.67" y1="396.65" x2="398.27" y2="396.65" stroke="#1a1aa8" stroke-width="1.8"/>
<circle cx="396.47" cy="380.51" r="1.9" fill="#1a1aa8"/>
<line x1="389.42" y1="359.84" x2="389.42" y2="395.95" stroke="#1a1aa8" stroke-width="1.5"/>
<line x1="387.62" y1="359.84" x2="391.22" y2="359.84" stroke="#1a1aa8" stroke-width="1.8"/>
<line x1="387.62" y1="395.95" x2="391.22" y2="395.95" stroke="#1a1aa8" stroke-width="1.8"/>
<circle cx="389.42" cy="377.90" r="1.9" fill="#1a1aa8"/>
<line x1="382.37" y1="369.16" x2="382.37" y2="406.28" stroke="#1a1aa8" stroke-width="1.5"/>
<line x1="380.57" y1="369.16" x2="384.17" y2="369.16" stroke="#1a1aa8" stroke-width="1.8"/>
<line x1="380.57" y1="406.28" x2="384.17" y2="406.28" stroke="#1a1aa8" stroke-width="1.8"/>
<circle cx="382.37" cy="387.72" r="1.9" fill="#1a1aa8"/>
<line x1="375.32" y1="361.70" x2="375.32" y2="395.92" stroke="#1a1aa8" stroke-width="1.5"/>
<line x1="373.52" y1="361.70" x2="377.12" y2="361.70" stroke="#1a1aa8" stroke-width="1.8"/>
<line x1="373.52" y1="395.92" x2="377.12" y2="395.92" stroke="#1a1aa8" stroke-width="1.8"/>
<circle cx="375.32" cy="378.81" r="1.9" fill="#1a1aa8"/>
<line x1="368.27" y1="375.57" x2="368.27" y2="393.69" stroke="#1a1aa8" stroke-width="1.5"/>
<line x1="366.47" y1="375.57" x2="370.07" y2="375.57" stroke="#1a1aa8" stroke-width="1.8"/>
<line x1="366.47" y1="393.69" x2="370.07" y2="393.69" stroke="#1a1aa8" stroke-width="1.8"/>
<circle cx="368.27" cy="384.63" r="1.9" fill="#1a1aa8"/>
<line x1="361.22" y1="379.58" x2="361.22" y2="399.19" stroke="#1a1aa8" stroke-width="1.5"/>
<line x1="359.42" y1="379.58" x2="363.02" y2="379.58" stroke="#1a1aa8" stroke-width="1.8"/>
<line x1="359.42" y1="399.19" x2="363.02" y2="399.19" stroke="#1a1aa8" stroke-width="1.8"/>
<circle cx="361.22" cy="389.39" r="1.9" fill="#1a1aa8"/>
<line x1="354.17" y1="368.40" x2="354.17" y2="396.09" stroke="#1a1aa8" stroke-width="1.5"/>
<line x1="352.37" y1="368.40" x2="355.97" y2="368.40" stroke="#1a1aa8" stroke-width="1.8"/>
<line x1="352.37" y1="396.09" x2="355.97" y2="396.09" stroke="#1a1aa8" stroke-width="1.8"/>
<circle cx="354.17" cy="382.25" r="1.9" fill="#1a1aa8"/>
<polyline points="354.17,384.55 354.77,384.55 355.36,384.55 355.95,384.55 356.54,384.55 357.13,384.55 357.72,384.55 358.31,384.55 358.90,384.55 359.49,384.55 360.09,384.55 360.68,384.55 361.27,384.55 361.86,384.55 362.45,384.55 363.04,384.55 363.63,384.55 364.22,384.55 364.82,384.55 365.41,384.55 366.00,384.55 366.59,384.55 367.18,384.55 367.77,384.55 368.36,384.55 368.95,384.55 369.55,384.55 370.14,384.55 370.73,384.55 371.32,384.55 371.91,384.55 372.50,384.55 373.09,384.55 373.68,384.55 374.27,384.55 374.87,384.55 375.46,384.55 376.05,384.55 376.64,384.55 377.23,384.55 377.82,384.55 378.41,384.55 379.00,384.55 379.60,384.55 380.19,384.55 380.78,384.55 381.37,384.55 381.96,384.55 382.55,384.55 383.14,384.55 383.73,384.55 384.33,384.55 384.92,384.55 385.51,384.55 386.10,384.55 386.69,384.55 387.28,384.55 387.87,384.55 388.46,384.55 389.05,384.55 389.65,384.55 390.24,384.55 390.83,384.55 391.42,384.55 392.01,384.55 392.60,384.55 393.19,384.55 393.78,384.55 394.38,384.55 394.97,384.55 395.56,384.55 396.15,384.55 396.74,384.55 397.33,384.55 397.92,384.55 398.51,384.55 399.11,384.55 399.70,384.55 400.29,384.55 400.88,384.55 401.47,384.55 402.06,384.55 402.65,384.55 403.24,384.55 403.83,384.55 404.43,384.55 405.02,384.55 405.61,384.55 406.20,384.55 406.79,384.55 407.38,384.55 407.97,384.55 408.56,384.55 409.16,384.55 409.75,384.55 410.34,384.55 410.93,384.55 411.52,384.55 412.11,384.55 412.70,384.55 413.29,384.55 413.89,384.55 414.48,384.55 415.07,384.55 415.66,384.55 416.25,384.55 416.84,384.55 417.43,384.55 418.02,384.55 418.61,384.55 419.21,384.55 419.80,384.55 420.39,384.55 420.98,384.55 421.57,384.55 422.16,384.55 422.75,384.55 423.34,384.55 423.94,384.55 424.53,384.55 425.12,384.55 425.71,384.55 426.30,384.55 426.89,384.55 427.48,384.55 428.07,384.55 428.67,384.55 429.26,384.55 429.85,384.55 430.44,384.55 431.03,384.55 431.62,384.55 432.21,384.55 432.80,384.55 433.39,384.55 433.99,384.55 434.58,384.55 435.17,384.55 435.76,384.55 436.35,384.55 436.94,384.55 437.53,384.55 438.12,384.55 438.72,384.54 439.31,384.54 439.90,384.53 440.49,384.52 441.08,384.51 441.67,384.50 442.26,384.48 442.85,384.46 443.45,384.42 444.04,384.38 444.63,384.32 445.22,384.24 445.81,384.13 446.40,383.99 446.99,383.80 447.58,383.54 448.17,383.20 448.77,382.74 449.36,382.13 449.95,381.32 450.54,380.26 451.13,378.87 451.72,377.06 452.31,374.74 452.90,371.78 453.50,368.10 454.09,363.59 454.68,358.23 455.27,352.02 455.86,345.10 456.45,337.66 457.04,330.01 457.63,322.47 458.23,315.34 458.82,308.86 459.41,303.19 460.00,298.39 460.59,294.43 461.18,291.23 461.77,288.70 462.36,286.72 462.95,285.19 463.55,284.02 464.14,283.14 464.73,282.46 465.32,281.96 465.91,281.58 466.50,281.29 467.09,281.08 467.68,280.92 468.28,280.80 468.87,280.71 469.46,280.65 470.05,280.60 470.64,280.56 471.23,280.53 471.82,280.51 472.41,280.50 473.01,280.49 473.60,280.48 474.19,280.47 474.78,280.47 475.37,280.46 475.96,280.46 476.55,280.46 477.14,280.46 477.73,280.46 478.33,280.46 478.92,280.46 479.51,280.45 480.10,280.45 480.69,280.45 481.28,280.45 481.87,280.45 482.46,280.45 483.06,280.45 483.65,280.45 484.24,280.45 484.83,280.45 485.42,280.45 486.01,280.45 486.60,280.45 487.19,280.45 487.79,280.45 488.38,280.45 488.97,280.45 489.56,280.45 490.15,280.45 490.74,280.45 491.33,280.45 491.92,280.45 492.51,280.45 493.11,280.45 493.70,280.45 494.29,280.45 494.88,280.45 495.47,280.45 496.06,280.45 496.65,280.45 497.24,280.45 497.84,280.45 498.43,280.45 499.02,280.45 499.61,280.45 500.20,280.45 500.79,280.45 501.38,280.45 501.97,280.45" fill="none" stroke="#1a1aa8" stroke-width="1.7"/>
<line x1="495.18" y1="276.85" x2="495.18" y2="280.25" stroke="#2fb53a" stroke-width="1.5"/>
<line x1="493.38" y1="276.85" x2="496.98" y2="276.85" stroke="#2fb53a" stroke-width="1.8"/>
<line x1="493.38" y1="280.25" x2="496.98" y2="280.25" stroke="#2fb53a" stroke-width="1.8"/>
<circle cx="495.18" cy="278.55" r="1.9" fill="#2fb53a"/>
<line x1="488.13" y1="277.40" x2="488.13" y2="280.63" stroke="#2fb53a" stroke-width="1.5"/>
<line x1="486.33" y1="277.40" x2="489.93" y2="277.40" stroke="#2fb53a" stroke-width="1.8"/>
<line x1="486.33" y1="280.63" x2="489.93" y2="280.63" stroke="#2fb53a" stroke-width="1.8"/>
<circle cx="488.13" cy="279.02" r="1.9" fill="#2fb53a"/>
<line x1="481.08" y1="278.14" x2="481.08" y2="281.61" stroke="#2fb53a" stroke-width="1.5"/>
<line x1="479.28" y1="278.14" x2="482.88" y2="278.14" stroke="#2fb53a" stroke-width="1.8"/>
<line x1="479.28" y1="281.61" x2="482.88" y2="281.61" stroke="#2fb53a" stroke-width="1.8"/>
<circle cx="481.08" cy="279.88" r="1.9" fill="#2fb53a"/>
<line x1="474.03" y1="278.17" x2="474.03" y2="280.09" stroke="#2fb53a" stroke-width="1.5"/>
<line x1="472.23" y1="278.17" x2="475.83" y2="278.17" stroke="#2fb53a" stroke-width="1.8"/>
<line x1="472.23" y1="280.09" x2="475.83" y2="280.09" stroke="#2fb53a" stroke-width="1.8"/>
<circle cx="474.03" cy="279.13" r="1.9" fill="#2fb53a"/>
<line x1="466.98" y1="277.23" x2="466.98" y2="279.92" stroke="#2fb53a" stroke-width="1.5"/>
<line x1="465.18" y1="277.23" x2="468.78" y2="277.23" stroke="#2fb53a" stroke-width="1.8"/>
<line x1="465.18" y1="279.92" x2="468.78" y2="279.92" stroke="#2fb53a" stroke-width="1.8"/>
<circle cx="466.98" cy="278.58" r="1.9" fill="#2fb53a"/>
<line x1="459.93" y1="277.54" x2="459.93" y2="280.55" stroke="#2fb53a" stroke-width="1.5"/>
<line x1="458.13" y1="277.54" x2="461.73" y2="277.54" stroke="#2fb53a" stroke-width="1.8"/>
<line x1="458.13" y1="280.55" x2="461.73" y2="280.55" stroke="#2fb53a" stroke-width="1.8"/>
<circle cx="459.93" cy="279.05" r="1.9" fill="#2fb53a"/>
<line x1="452.87" y1="275.72" x2="452.87" y2="283.71" stroke="#2fb53a" stroke-width="1.5"/>
<line x1="451.07" y1="275.72" x2="454.67" y2="275.72" stroke="#2fb53a" stroke-width="1.8"/>
<line x1="451.07" y1="283.71" x2="454.67" y2="283.71" stroke="#2fb53a" stroke-width="1.8"/>
<circle cx="452.87" cy="279.72" r="1.9" fill="#2fb53a"/>
<line x1="445.82" y1="280.78" x2="445.82" y2="281.76" stroke="#2fb53a" stroke-width="1.5"/>
<line x1="444.02" y1="280.78" x2="447.62" y2="280.78" stroke="#2fb53a" stroke-width="1.8"/>
<line x1="444.02" y1="281.76" x2="447.62" y2="281.76" stroke="#2fb53a" stroke-width="1.8"/>
<circle cx="445.82" cy="281.27" r="1.9" fill="#2fb53a"/>
<line x1="438.77" y1="333.75" x2="438.77" y2="345.43" stroke="#2fb53a" stroke-width="1.5"/>
<line x1="436.97" y1="333.75" x2="440.57" y2="333.75" stroke="#2fb53a" stroke-width="1.8"/>
<line x1="436.97" y1="345.43" x2="440.57" y2="345.43" stroke="#2fb53a" stroke-width="1.8"/>
<circle cx="438.77" cy="339.59" r="1.9" fill="#2fb53a"/>
<line x1="431.72" y1="363.92" x2="431.72" y2="394.17" stroke="#2fb53a" stroke-width="1.5"/>
<line x1="429.92" y1="363.92" x2="433.52" y2="363.92" stroke="#2fb53a" stroke-width="1.8"/>
<line x1="429.92" y1="394.17" x2="433.52" y2="394.17" stroke="#2fb53a" stroke-width="1.8"/>
<circle cx="431.72" cy="379.04" r="1.9" fill="#2fb53a"/>
<line x1="424.67" y1="374.01" x2="424.67" y2="394.49" stroke="#2fb53a" stroke-width="1.5"/>
<line x1="422.87" y1="374.01" x2="426.47" y2="374.01" stroke="#2fb53a" stroke-width="1.8"/>
<line x1="422.87" y1="394.49" x2="426.47" y2="394.49" stroke="#2fb53a" stroke-width="1.8"/>
<circle cx="424.67" cy="384.25" r="1.9" fill="#2fb53a"/>
<line x1="417.62" y1="371.91" x2="417.62" y2="399.13" stroke="#2fb53a" stroke-width="1.5"/>
<line x1="415.82" y1="371.91" x2="419.42" y2="371.91" stroke="#2fb53a" stroke-width="1.8"/>
<line x1="415.82" y1="399.13" x2="419.42" y2="399.13" stroke="#2fb53a" stroke-width="1.8"/>
<circle cx="417.62" cy="385.52" r="1.9" fill="#2fb53a"/>
<line x1="410.57" y1="364.62" x2="410.57" y2="394.38" stroke="#2fb53a" stroke-width="1.5"/>
<line x1="408.77" y1="364.62" x2="412.37" y2="364.62" stroke="#2fb53a" stroke-width="1.8"/>
<line x1="408.77" y1="394.38" x2="412.37" y2="394.38" stroke="#2fb53a" stroke-width="1.8"/>
<circle cx="410.57" cy="379.50" r="1.9" fill="#2fb53a"/>
<line x1="403.52" y1="365.16" x2="403.52" y2="384.10" stroke="#2fb53a" stroke-width="1.5"/>
<line x1="401.72" y1="365.16" x2="405.32" y2="365.16" stroke="#2fb53a" stroke-width="1.8"/>
<line x1="401.72" y1="384.10" x2="405.32" y2="384.10" stroke="#2fb53a" stroke-width="1.8"/>
<circle cx="403.52" cy="374.63" r="1.9" fill="#2fb53a"/>
<line x1="396.47" y1="375.75" x2="396.47" y2="392.54" stroke="#2fb53a" stroke-width="1.5"/>
<line x1="394.67" y1="375.75" x2="398.27" y2="375.75" stroke="#2fb53a" stroke-width="1.8"/>
<line x1="394.67" y1="392.54" x2="398.27" y2="392.54" stroke="#2fb53a" stroke-width="1.8"/>
<circle cx="396.47" cy="384.14" r="1.9" fill="#2fb53a"/>
<line x1="389.42" y1="365.45" x2="389.42" y2="401.52" stroke="#2fb53a" stroke-width="1.5"/>
<line x1="387.62" y1="365.45" x2="391.22" y2="365.45" stroke="#2fb53a" stroke-width="1.8"/>
<line x1="387.62" y1="401.52" x2="391.22" y2="401.52" stroke="#2fb53a" stroke-width="1.8"/>
<circle cx="389.42" cy="383.48" r="1.9" fill="#2fb53a"/>
<line x1="382.37" y1="365.74" x2="382.37" y2="392.06" stroke="#2fb53a" stroke-width="1.5"/>
<line x1="380.57" y1="365.74" x2="384.17" y2="365.74" stroke="#2fb53a" stroke-width="1.8"/>
<line x1="380.57" y1="392.06" x2="384.17" y2="392.06" stroke="#2fb53a" stroke-width="1.8"/>
<circle cx="382.37" cy="378.90" r="1.9" fill="#2fb53a"/>
<line x1="375.32" y1="366.49" x2="375.32" y2="393.08" stroke="#2fb53a" stroke-width="1.5"/>
<line x1="373.52" y1="366.49" x2="377.12" y2="366.49" stroke="#2fb53a" stroke-width="1.8"/>
<line x1="373.52" y1="393.08" x2="377.12" y2="393.08" stroke="#2fb53a" stroke-width="1.8"/>
<circle cx="375.32" cy="379.78" r="1.9" fill="#2fb53a"/>
<line x1="368.27" y1="365.78" x2="368.27" y2="394.10" stroke="#2fb53a" stroke-width="1.5"/>
<line x1="366.47" y1="365.78" x2="370.07" y2="365.78" stroke="#2fb53a" stroke-width="1.8"/>
<line x1="366.47" y1="394.10" x2="370.07" y2="394.10" stroke="#2fb53a" stroke-width="1.8"/>
<circle cx="368.27" cy="379.94" r="1.9" fill="#2fb53a"/>
<line x1="361.22" y1="366.81" x2="361.22" y2="384.03" stroke="#2fb53a" stroke-width="1.5"/>
<line x1="359.42" y1="366.81" x2="363.02" y2="366.81" stroke="#2fb53a" stroke-width="1.8"/>
<line x1="359.42" y1="384.03" x2="363.02" y2="384.03" stroke="#2fb53a" stroke-width="1.8"/>
<circle cx="361.22" cy="375.42" r="1.9" fill="#2fb53a"/>
<line x1="354.17" y1="374.42" x2="354.17" y2="397.23" stroke="#2fb53a" stroke-width="1.5"/>
<line x1="352.37" y1="374.42" x2="355.97" y2="374.42" stroke="#2fb53a" stroke-width="1.8"/>
<line x1="352.37" y1="397.23" x2="355.97" y2="397.23" stroke="#2fb53a" stroke-width="1.8"/>
<circle cx="354.17" cy="385.83" r="1.9" fill="#2fb53a"/>
<polyline points="354.17,379.71 354.77,379.71 355.36,379.71 355.95,379.71 356.54,379.71 357.13,379.71 357.72,379.71 358.31,379.71 358.90,379.71 359.49,379.71 360.09,379.71 360.68,379.71 361.27,379.71 361.86,379.71 362.45,379.71 363.04,379.71 363.63,379.71 364.22,379.71 364.82,379.71 365.41,379.71 366.00,379.71 366.59,379.71 367.18,379.71 367.77,379.71 368.36,379.71 368.95,379.71 369.55,379.70 370.14,379.70 370.73,379.70 371.32,379.70 371.91,379.70 372.50,379.70 373.09,379.70 373.68,379.70 374.27,379.70 374.87,379.70 375.46,379.70 376.05,379.70 376.64,379.70 377.23,379.70 377.82,379.70 378.41,379.70 379.00,379.70 379.60,379.70 380.19,379.70 380.78,379.70 381.37,379.70 381.96,379.70 382.55,379.70 383.14,379.70 383.73,379.70 384.33,379.70 384.92,379.70 385.51,379.70 386.10,379.70 386.69,379.70 387.28,379.70 387.87,379.70 388.46,379.70 389.05,379.70 389.65,379.70 390.24,379.70 390.83,379.70 391.42,379.70 392.01,379.70 392.60,379.70 393.19,379.70 393.78,379.70 394.38,379.70 394.97,379.70 395.56,379.70 396.15,379.70 396.74,379.70 397.33,379.70 397.92,379.70 398.51,379.70 399.11,379.70 399.70,379.70 400.29,379.70 400.88,379.70 401.47,379.70 402.06,379.70 402.65,379.70 403.24,379.70 403.83,379.70 404.43,379.70 405.02,379.70 405.61,379.70 406.20,379.70 406.79,379.70 407.38,379.70 407.97,379.70 408.56,379.70 409.16,379.70 409.75,379.70 410.34,379.70 410.93,379.70 411.52,379.70 412.11,379.70 412.70,379.70 413.29,379.70 413.89,379.70 414.48,379.70 415.07,379.70 415.66,379.70 416.25,379.70 416.84,379.70 417.43,379.70 418.02,379.70 418.61,379.70 419.21,379.70 419.80,379.70 420.39,379.70 420.98,379.70 421.57,379.70 422.16,379.69 422.75,379.69 423.34,379.68 423.94,379.68 424.53,379.66 425.12,379.65 425.71,379.63 426.30,379.60 426.89,379.56 427.48,379.51 428.07,379.44 428.67,379.34 429.26,379.21 429.85,379.02 430.44,378.78 431.03,378.44 431.62,377.98 432.21,377.36 432.80,376.53 433.39,375.41 433.99,373.92 434.58,371.96 435.17,369.41 435.76,366.13 436.35,362.02 436.94,356.99 437.53,351.02 438.12,344.20 438.72,336.73 439.31,328.93 439.90,321.15 440.49,313.76 441.08,307.06 441.67,301.23 442.26,296.34 442.85,292.36 443.45,289.20 444.04,286.74 444.63,284.86 445.22,283.43 445.81,282.36 446.40,281.56 446.99,280.97 447.58,280.53 448.17,280.21 448.77,279.98 449.36,279.80 449.95,279.67 450.54,279.58 451.13,279.51 451.72,279.46 452.31,279.43 452.90,279.40 453.50,279.38 454.09,279.36 454.68,279.35 455.27,279.35 455.86,279.34 456.45,279.34 457.04,279.33 457.63,279.33 458.23,279.33 458.82,279.33 459.41,279.33 460.00,279.33 460.59,279.33 461.18,279.33 461.77,279.33 462.36,279.33 462.95,279.33 463.55,279.33 464.14,279.33 464.73,279.33 465.32,279.33 465.91,279.33 466.50,279.33 467.09,279.33 467.68,279.33 468.28,279.33 468.87,279.33 469.46,279.33 470.05,279.33 470.64,279.33 471.23,279.33 471.82,279.33 472.41,279.33 473.01,279.33 473.60,279.33 474.19,279.33 474.78,279.33 475.37,279.33 475.96,279.33 476.55,279.33 477.14,279.33 477.73,279.33 478.33,279.33 478.92,279.33 479.51,279.33 480.10,279.33 480.69,279.33 481.28,279.33 481.87,279.33 482.46,279.33 483.06,279.33 483.65,279.33 484.24,279.33 484.83,279.33 485.42,279.33 486.01,279.33 486.60,279.33 487.19,279.33 487.79,279.33 488.38,279.33 488.97,279.33 489.56,279.33 490.15,279.33 490.74,279.33 491.33,279.33 491.92,279.33 492.51,279.33 493.11,279.33 493.70,279.33 494.29,279.33 494.88,279.33" fill="none" stroke="#2fb53a" stroke-width="1.7"/>
<line x1="502.23" y1="279.36" x2="502.23" y2="280.63" stroke="#9b32d2" stroke-width="1.5"/>
<line x1="500.43" y1="279.36" x2="504.03" y2="279.36" stroke="#9b32d2" stroke-width="1.8"/>
<line x1="500.43" y1="280.63" x2="504.03" y2="280.63" stroke="#9b32d2" stroke-width="1.8"/>
<circle cx="502.23" cy="279.99" r="1.9" fill="#9b32d2"/>
<line x1="495.18" y1="278.28" x2="495.18" y2="279.12" stroke="#9b32d2" stroke-width="1.5"/>
<line x1="493.38" y1="278.28" x2="496.98" y2="278.28" stroke="#9b32d2" stroke-width="1.8"/>
<line x1="493.38" y1="279.12" x2="496.98" y2="279.12" stroke="#9b32d2" stroke-width="1.8"/>
<circle cx="495.18" cy="278.70" r="1.9" fill="#9b32d2"/>
<line x1="488.13" y1="275.39" x2="488.13" y2="282.44" stroke="#9b32d2" stroke-width="1.5"/>
<line x1="486.33" y1="275.39" x2="489.93" y2="275.39" stroke="#9b32d2" stroke-width="1.8"/>
<line x1="486.33" y1="282.44" x2="489.93" y2="282.44" stroke="#9b32d2" stroke-width="1.8"/>
<circle cx="488.13" cy="278.91" r="1.9" fill="#9b32d2"/>
<line x1="481.08" y1="277.03" x2="481.08" y2="279.57" stroke="#9b32d2" stroke-width="1.5"/>
<line x1="479.28" y1="277.03" x2="482.88" y2="277.03" stroke="#9b32d2" stroke-width="1.8"/>
<line x1="479.28" y1="279.57" x2="482.88" y2="279.57" stroke="#9b32d2" stroke-width="1.8"/>
<circle cx="481.08" cy="278.30" r="1.9" fill="#9b32d2"/>
<line x1="474.03" y1="273.78" x2="474.03" y2="283.32" stroke="#9b32d2" stroke-width="1.5"/>
<line x1="472.23" y1="273.78" x2="475.83" y2="273.78" stroke="#9b32d2" stroke-width="1.8"/>
<line x1="472.23" y1="283.32" x2="475.83" y2="283.32" stroke="#9b32d2" stroke-width="1.8"/>
<circle cx="474.03" cy="278.55" r="1.9" fill="#9b32d2"/>
<line x1="466.98" y1="273.72" x2="466.98" y2="287.06" stroke="#9b32d2" stroke-width="1.5"/>
<line x1="465.18" y1="273.72" x2="468.78" y2="273.72" stroke="#9b32d2" stroke-width="1.8"/>
<line x1="465.18" y1="287.06" x2="468.78" y2="287.06" stroke="#9b32d2" stroke-width="1.8"/>
<circle cx="466.98" cy="280.39" r="1.9" fill="#9b32d2"/>
<line x1="459.93" y1="276.03" x2="459.93" y2="284.30" stroke="#9b32d2" stroke-width="1.5"/>
<line x1="458.13" y1="276.03" x2="461.73" y2="276.03" stroke="#9b32d2" stroke-width="1.8"/>
<line x1="458.13" y1="284.30" x2="461.73" y2="284.30" stroke="#9b32d2" stroke-width="1.8"/>
<circle cx="459.93" cy="280.17" r="1.9" fill="#9b32d2"/>
<line x1="452.87" y1="276.88" x2="452.87" y2="280.02" stroke="#9b32d2" stroke-width="1.5"/>
<line x1="451.07" y1="276.88" x2="454.67" y2="276.88" stroke="#9b32d2" stroke-width="1.8"/>
<line x1="451.07" y1="280.02" x2="454.67" y2="280.02" stroke="#9b32d2" stroke-width="1.8"/>
<circle cx="452.87" cy="278.45" r="1.9" fill="#9b32d2"/>
<line x1="445.82" y1="284.85" x2="445.82" y2="287.95" stroke="#9b32d2" stroke-width="1.5"/>
<line x1="444.02" y1="284.85" x2="447.62" y2="284.85" stroke="#9b32d2" stroke-width="1.8"/>
<line x1="444.02" y1="287.95" x2="447.62" y2="287.95" stroke="#9b32d2" stroke-width="1.8"/>
<circle cx="445.82" cy="286.40" r="1.9" fill="#9b32d2"/>
<line x1="438.77" y1="347.42" x2="438.77" y2="362.86" stroke="#9b32d2" stroke-width="1.5"/>
<line x1="436.97" y1="347.42" x2="440.57" y2="347.42" stroke="#9b32d2" stroke-width="1.8"/>
<line x1="436.97" y1="362.86" x2="440.57" y2="362.86" stroke="#9b32d2" stroke-width="1.8"/>
<circle cx="438.77" cy="355.14" r="1.9" fill="#9b32d2"/>
<line x1="431.72" y1="371.03" x2="431.72" y2="400.31" stroke="#9b32d2" stroke-width="1.5"/>
<line x1="429.92" y1="371.03" x2="433.52" y2="371.03" stroke="#9b32d2" stroke-width="1.8"/>
<line x1="429.92" y1="400.31" x2="433.52" y2="400.31" stroke="#9b32d2" stroke-width="1.8"/>
<circle cx="431.72" cy="385.67" r="1.9" fill="#9b32d2"/>
<line x1="424.67" y1="379.71" x2="424.67" y2="396.59" stroke="#9b32d2" stroke-width="1.5"/>
<line x1="422.87" y1="379.71" x2="426.47" y2="379.71" stroke="#9b32d2" stroke-width="1.8"/>
<line x1="422.87" y1="396.59" x2="426.47" y2="396.59" stroke="#9b32d2" stroke-width="1.8"/>
<circle cx="424.67" cy="388.15" r="1.9" fill="#9b32d2"/>
<line x1="417.62" y1="365.34" x2="417.62" y2="396.02" stroke="#9b32d2" stroke-width="1.5"/>
<line x1="415.82" y1="365.34" x2="419.42" y2="365.34" stroke="#9b32d2" stroke-width="1.8"/>
<line x1="415.82" y1="396.02" x2="419.42" y2="396.02" stroke="#9b32d2" stroke-width="1.8"/>
<circle cx="417.62" cy="380.68" r="1.9" fill="#9b32d2"/>
<line x1="410.57" y1="358.74" x2="410.57" y2="394.78" stroke="#9b32d2" stroke-width="1.5"/>
<line x1="408.77" y1="358.74" x2="412.37" y2="358.74" stroke="#9b32d2" stroke-width="1.8"/>
<line x1="408.77" y1="394.78" x2="412.37" y2="394.78" stroke="#9b32d2" stroke-width="1.8"/>
<circle cx="410.57" cy="376.76" r="1.9" fill="#9b32d2"/>
<line x1="403.52" y1="363.66" x2="403.52" y2="389.96" stroke="#9b32d2" stroke-width="1.5"/>
<line x1="401.72" y1="363.66" x2="405.32" y2="363.66" stroke="#9b32d2" stroke-width="1.8"/>
<line x1="401.72" y1="389.96" x2="405.32" y2="389.96" stroke="#9b32d2" stroke-width="1.8"/>
<circle cx="403.52" cy="376.81" r="1.9" fill="#9b32d2"/>
<line x1="396.47" y1="365.97" x2="396.47" y2="386.74" stroke="#9b32d2" stroke-width="1.5"/>
<line x1="394.67" y1="365.97" x2="398.27" y2="365.97" stroke="#9b32d2" stroke-width="1.8"/>
<line x1="394.67" y1="386.74" x2="398.27" y2="386.74" stroke="#9b32d2" stroke-width="1.8"/>
<circle cx="396.47" cy="376.35" r="1.9" fill="#9b32d2"/>
<line x1="389.42" y1="364.55" x2="389.42" y2="386.56" stroke="#9b32d2" stroke-width="1.5"/>
<line x1="387.62" y1="364.55" x2="391.22" y2="364.55" stroke="#9b32d2" stroke-width="1.8"/>
<line x1="387.62" y1="386.56" x2="391.22" y2="386.56" stroke="#9b32d2" stroke-width="1.8"/>
<circle cx="389.42" cy="375.56" r="1.9" fill="#9b32d2"/>
<line x1="382.37" y1="369.82" x2="382.37" y2="395.15" stroke="#9b32d2" stroke-width="1.5"/>
<line x1="380.57" y1="369.82" x2="384.17" y2="369.82" stroke="#9b32d2" stroke-width="1.8"/>
<line x1="380.57" y1="395.15" x2="384.17" y2="395.15" stroke="#9b32d2" stroke-width="1.8"/>
<circle cx="382.37" cy="382.48" r="1.9" fill="#9b32d2"/>
<line x1="375.32" y1="373.15" x2="375.32" y2="401.80" stroke="#9b32d2" stroke-width="1.5"/>
<line x1="373.52" y1="373.15" x2="377.12" y2="373.15" stroke="#9b32d2" stroke-width="1.8"/>
<line x1="373.52" y1="401.80" x2="377.12" y2="401.80" stroke="#9b32d2" stroke-width="1.8"/>
<circle cx="375.32" cy="387.48" r="1.9" fill="#9b32d2"/>
<line x1="368.27" y1="372.08" x2="368.27" y2="389.73" stroke="#9b32d2" stroke-width="1.5"/>
<line x1="366.47" y1="372.08" x2="370.07" y2="372.08" stroke="#9b32d2" stroke-width="1.8"/>
<line x1="366.47" y1="389.73" x2="370.07" y2="389.73" stroke="#9b32d2" stroke-width="1.8"/>
<circle cx="368.27" cy="380.90" r="1.9" fill="#9b32d2"/>
<line x1="361.22" y1="370.92" x2="361.22" y2="404.43" stroke="#9b32d2" stroke-width="1.5"/>
<line x1="359.42" y1="370.92" x2="363.02" y2="370.92" stroke="#9b32d2" stroke-width="1.8"/>
<line x1="359.42" y1="404.43" x2="363.02" y2="404.43" stroke="#9b32d2" stroke-width="1.8"/>
<circle cx="361.22" cy="387.67" r="1.9" fill="#9b32d2"/>
<line x1="354.17" y1="370.33" x2="354.17" y2="396.21" stroke="#9b32d2" stroke-width="1.5"/>
<line x1="352.37" y1="370.33" x2="355.97" y2="370.33" stroke="#9b32d2" stroke-width="1.8"/>
<line x1="352.37" y1="396.21" x2="355.97" y2="396.21" stroke="#9b32d2" stroke-width="1.8"/>
<circle cx="354.17" cy="383.27" r="1.9" fill="#9b32d2"/>
<polyline points="354.17,381.51 354.77,381.51 355.36,381.51 355.95,381.51 356.54,381.51 357.13,381.51 357.72,381.51 358.31,381.51 358.90,381.51 359.49,381.51 360.09,381.51 360.68,381.51 361.27,381.51 361.86,381.51 362.45,381.51 363.04,381.51 363.63,381.51 364.22,381.51 364.82,381.51 365.41,381.51 366.00,381.51 366.59,381.51 367.18,381.51 367.77,381.51 368.36,381.51 368.95,381.51 369.55,381.51 370.14,381.51 370.73,381.51 371.32,381.51 371.91,381.51 372.50,381.51 373.09,381.51 373.68,381.51 374.27,381.51 374.87,381.51 375.46,381.51 376.05,381.51 376.64,381.51 377.23,381.51 377.82,381.51 378.41,381.51 379.00,381.51 379.60,381.51 380.19,381.51 380.78,381.51 381.37,381.51 381.96,381.51 382.55,381.51 383.14,381.51 383.73,381.51 384.33,381.51 384.92,381.51 385.51,381.51 386.10,381.51 386.69,381.51 387.28,381.51 387.87,381.51 388.46,381.51 389.05,381.51 389.65,381.51 390.24,381.51 390.83,381.51 391.42,381.51 392.01,381.51 392.60,381.51 393.19,381.51 393.78,381.51 394.38,381.51 394.97,381.51 395.56,381.51 396.15,381.51 396.74,381.51 397.33,381.51 397.92,381.51 398.51,381.51 399.11,381.51 399.70,381.51 400.29,381.51 400.88,381.51 401.47,381.51 402.06,381.51 402.65,381.51 403.24,381.51 403.83,381.51 404.43,381.51 405.02,381.51 405.61,381.51 406.20,381.51 406.79,381.51 407.38,381.51 407.97,381.51 408.56,381.51 409.16,381.51 409.75,381.51 410.34,381.51 410.93,381.51 411.52,381.51 412.11,381.51 412.70,381.51 413.29,381.51 413.89,381.51 414.48,381.51 415.07,381.51 415.66,381.51 416.25,381.51 416.84,381.51 417.43,381.51 418.02,381.51 418.61,381.51 419.21,381.51 419.80,381.51 420.39,381.51 420.98,381.51 421.57,381.51 422.16,381.50 422.75,381.50 423.34,381.50 423.94,381.49 424.53,381.49 425.12,381.48 425.71,381.47 426.30,381.46 426.89,381.44 427.48,381.41 428.07,381.37 428.67,381.33 429.26,381.26 429.85,381.17 430.44,381.04 431.03,380.87 431.62,380.63 432.21,380.32 432.80,379.89 433.39,379.30 433.99,378.51 434.58,377.45 435.17,376.04 435.76,374.18 436.35,371.74 436.94,368.60 437.53,364.64 438.12,359.75 438.72,353.91 439.31,347.17 439.90,339.71 440.49,331.82 441.08,323.85 441.67,316.20 442.26,309.19 442.85,303.02 443.45,297.80 444.04,293.52 444.63,290.11 445.22,287.44 445.81,285.39 446.40,283.83 446.99,282.66 447.58,281.78 448.17,281.13 448.77,280.65 449.36,280.30 449.95,280.04 450.54,279.85 451.13,279.71 451.72,279.61 452.31,279.53 452.90,279.48 453.50,279.44 454.09,279.41 454.68,279.38 455.27,279.37 455.86,279.36 456.45,279.35 457.04,279.34 457.63,279.34 458.23,279.33 458.82,279.33 459.41,279.33 460.00,279.33 460.59,279.33 461.18,279.33 461.77,279.33 462.36,279.33 462.95,279.33 463.55,279.33 464.14,279.33 464.73,279.33 465.32,279.33 465.91,279.33 466.50,279.33 467.09,279.33 467.68,279.33 468.28,279.33 468.87,279.33 469.46,279.33 470.05,279.33 470.64,279.33 471.23,279.33 471.82,279.33 472.41,279.33 473.01,279.33 473.60,279.33 474.19,279.33 474.78,279.33 475.37,279.33 475.96,279.33 476.55,279.33 477.14,279.33 477.73,279.33 478.33,279.33 478.92,279.33 479.51,279.33 480.10,279.33 480.69,279.33 481.28,279.33 481.87,279.33 482.46,279.33 483.06,279.33 483.65,279.33 484.24,279.33 484.83,279.33 485.42,279.33 486.01,279.33 486.60,279.33 487.19,279.33 487.79,279.33 488.38,279.33 488.97,279.33 489.56,279.33 490.15,279.33 490.74,279.33 491.33,279.33 491.92,279.33 492.51,279.33 493.11,279.33 493.70,279.33 494.29,279.33 494.88,279.33 495.47,279.33 496.06,279.33 496.65,279.33 497.24,279.33 497.84,279.33 498.43,279.33 499.02,279.33 499.61,279.33 500.20,279.33 500.79,279.33 501.38,279.33 501.97,279.33" fill="none" stroke="#9b32d2" stroke-width="1.7"/>
<line x1="502.23" y1="278.06" x2="502.23" y2="280.79" stroke="#e3262c" stroke-width="1.5"/>
<line x1="500.43" y1="278.06" x2="504.03" y2="278.06" stroke="#e3262c" stroke-width="1.8"/>
<line x1="500.43" y1="280.79" x2="504.03" y2="280.79" stroke="#e3262c" stroke-width="1.8"/>
<circle cx="502.23" cy="279.42" r="1.9" fill="#e3262c"/>
<line x1="495.18" y1="279.29" x2="495.18" y2="280.16" stroke="#e3262c" stroke-width="1.5"/>
<line x1="493.38" y1="279.29" x2="496.98" y2="279.29" stroke="#e3262c" stroke-width="1.8"/>
<line x1="493.38" y1="280.16" x2="496.98" y2="280.16" stroke="#e3262c" stroke-width="1.8"/>
<circle cx="495.18" cy="279.72" r="1.9" fill="#e3262c"/>
<line x1="488.13" y1="278.86" x2="488.13" y2="280.63" stroke="#e3262c" stroke-width="1.5"/>
<line x1="486.33" y1="278.86" x2="489.93" y2="278.86" stroke="#e3262c" stroke-width="1.8"/>
<line x1="486.33" y1="280.63" x2="489.93" y2="280.63" stroke="#e3262c" stroke-width="1.8"/>
<circle cx="488.13" cy="279.74" r="1.9" fill="#e3262c"/>
<line x1="481.08" y1="278.80" x2="481.08" y2="282.15" stroke="#e3262c" stroke-width="1.5"/>
<line x1="479.28" y1="278.80" x2="482.88" y2="278.80" stroke="#e3262c" stroke-width="1.8"/>
<line x1="479.28" y1="282.15" x2="482.88" y2="282.15" stroke="#e3262c" stroke-width="1.8"/>
<circle cx="481.08" cy="280.47" r="1.9" fill="#e3262c"/>
<line x1="474.03" y1="278.60" x2="474.03" y2="281.97" stroke="#e3262c" stroke-width="1.5"/>
<line x1="472.23" y1="278.60" x2="475.83" y2="278.60" stroke="#e3262c" stroke-width="1.8"/>
<line x1="472.23" y1="281.97" x2="475.83" y2="281.97" stroke="#e3262c" stroke-width="1.8"/>
<circle cx="474.03" cy="280.29" r="1.9" fill="#e3262c"/>
<line x1="466.98" y1="278.27" x2="466.98" y2="281.40" stroke="#e3262c" stroke-width="1.5"/>
<line x1="465.18" y1="278.27" x2="468.78" y2="278.27" stroke="#e3262c" stroke-width="1.8"/>
<line x1="465.18" y1="281.40" x2="468.78" y2="281.40" stroke="#e3262c" stroke-width="1.8"/>
<circle cx="466.98" cy="279.83" r="1.9" fill="#e3262c"/>
<line x1="459.93" y1="278.04" x2="459.93" y2="280.64" stroke="#e3262c" stroke-width="1.5"/>
<line x1="458.13" y1="278.04" x2="461.73" y2="278.04" stroke="#e3262c" stroke-width="1.8"/>
<line x1="458.13" y1="280.64" x2="461.73" y2="280.64" stroke="#e3262c" stroke-width="1.8"/>
<circle cx="459.93" cy="279.34" r="1.9" fill="#e3262c"/>
<line x1="452.87" y1="278.36" x2="452.87" y2="281.90" stroke="#e3262c" stroke-width="1.5"/>
<line x1="451.07" y1="278.36" x2="454.67" y2="278.36" stroke="#e3262c" stroke-width="1.8"/>
<line x1="451.07" y1="281.90" x2="454.67" y2="281.90" stroke="#e3262c" stroke-width="1.8"/>
<circle cx="452.87" cy="280.13" r="1.9" fill="#e3262c"/>
<line x1="445.82" y1="279.58" x2="445.82" y2="282.06" stroke="#e3262c" stroke-width="1.5"/>
<line x1="444.02" y1="279.58" x2="447.62" y2="279.58" stroke="#e3262c" stroke-width="1.8"/>
<line x1="444.02" y1="282.06" x2="447.62" y2="282.06" stroke="#e3262c" stroke-width="1.8"/>
<circle cx="445.82" cy="280.82" r="1.9" fill="#e3262c"/>
<line x1="438.77" y1="279.10" x2="438.77" y2="281.85" stroke="#e3262c" stroke-width="1.5"/>
<line x1="436.97" y1="279.10" x2="440.57" y2="279.10" stroke="#e3262c" stroke-width="1.8"/>
<line x1="436.97" y1="281.85" x2="440.57" y2="281.85" stroke="#e3262c" stroke-width="1.8"/>
<circle cx="438.77" cy="280.48" r="1.9" fill="#e3262c"/>
<line x1="431.72" y1="283.09" x2="431.72" y2="284.92" stroke="#e3262c" stroke-width="1.5"/>
<line x1="429.92" y1="283.09" x2="433.52" y2="283.09" stroke="#e3262c" stroke-width="1.8"/>
<line x1="429.92" y1="284.92" x2="433.52" y2="284.92" stroke="#e3262c" stroke-width="1.8"/>
<circle cx="431.72" cy="284.01" r="1.9" fill="#e3262c"/>
<line x1="424.67" y1="329.98" x2="424.67" y2="342.94" stroke="#e3262c" stroke-width="1.5"/>
<line x1="422.87" y1="329.98" x2="426.47" y2="329.98" stroke="#e3262c" stroke-width="1.8"/>
<line x1="422.87" y1="342.94" x2="426.47" y2="342.94" stroke="#e3262c" stroke-width="1.8"/>
<circle cx="424.67" cy="336.46" r="1.9" fill="#e3262c"/>
<line x1="417.62" y1="368.85" x2="417.62" y2="403.89" stroke="#e3262c" stroke-width="1.5"/>
<line x1="415.82" y1="368.85" x2="419.42" y2="368.85" stroke="#e3262c" stroke-width="1.8"/>
<line x1="415.82" y1="403.89" x2="419.42" y2="403.89" stroke="#e3262c" stroke-width="1.8"/>
<circle cx="417.62" cy="386.37" r="1.9" fill="#e3262c"/>
<line x1="410.57" y1="375.98" x2="410.57" y2="395.99" stroke="#e3262c" stroke-width="1.5"/>
<line x1="408.77" y1="375.98" x2="412.37" y2="375.98" stroke="#e3262c" stroke-width="1.8"/>
<line x1="408.77" y1="395.99" x2="412.37" y2="395.99" stroke="#e3262c" stroke-width="1.8"/>
<circle cx="410.57" cy="385.98" r="1.9" fill="#e3262c"/>
<line x1="403.52" y1="370.93" x2="403.52" y2="393.29" stroke="#e3262c" stroke-width="1.5"/>
<line x1="401.72" y1="370.93" x2="405.32" y2="370.93" stroke="#e3262c" stroke-width="1.8"/>
<line x1="401.72" y1="393.29" x2="405.32" y2="393.29" stroke="#e3262c" stroke-width="1.8"/>
<circle cx="403.52" cy="382.11" r="1.9" fill="#e3262c"/>
<line x1="396.47" y1="372.46" x2="396.47" y2="392.54" stroke="#e3262c" stroke-width="1.5"/>
<line x1="394.67" y1="372.46" x2="398.27" y2="372.46" stroke="#e3262c" stroke-width="1.8"/>
<line x1="394.67" y1="392.54" x2="398.27" y2="392.54" stroke="#e3262c" stroke-width="1.8"/>
<circle cx="396.47" cy="382.50" r="1.9" fill="#e3262c"/>
<line x1="389.42" y1="376.97" x2="389.42" y2="393.14" stroke="#e3262c" stroke-width="1.5"/>
<line x1="387.62" y1="376.97" x2="391.22" y2="376.97" stroke="#e3262c" stroke-width="1.8"/>
<line x1="387.62" y1="393.14" x2="391.22" y2="393.14" stroke="#e3262c" stroke-width="1.8"/>
<circle cx="389.42" cy="385.05" r="1.9" fill="#e3262c"/>
<line x1="382.37" y1="375.65" x2="382.37" y2="400.03" stroke="#e3262c" stroke-width="1.5"/>
<line x1="380.57" y1="375.65" x2="384.17" y2="375.65" stroke="#e3262c" stroke-width="1.8"/>
<line x1="380.57" y1="400.03" x2="384.17" y2="400.03" stroke="#e3262c" stroke-width="1.8"/>
<circle cx="382.37" cy="387.84" r="1.9" fill="#e3262c"/>
<line x1="375.32" y1="378.39" x2="375.32" y2="404.49" stroke="#e3262c" stroke-width="1.5"/>
<line x1="373.52" y1="378.39" x2="377.12" y2="378.39" stroke="#e3262c" stroke-width="1.8"/>
<line x1="373.52" y1="404.49" x2="377.12" y2="404.49" stroke="#e3262c" stroke-width="1.8"/>
<circle cx="375.32" cy="391.44" r="1.9" fill="#e3262c"/>
<line x1="368.27" y1="371.24" x2="368.27" y2="397.89" stroke="#e3262c" stroke-width="1.5"/>
<line x1="366.47" y1="371.24" x2="370.07" y2="371.24" stroke="#e3262c" stroke-width="1.8"/>
<line x1="366.47" y1="397.89" x2="370.07" y2="397.89" stroke="#e3262c" stroke-width="1.8"/>
<circle cx="368.27" cy="384.57" r="1.9" fill="#e3262c"/>
<line x1="361.22" y1="378.45" x2="361.22" y2="402.99" stroke="#e3262c" stroke-width="1.5"/>
<line x1="359.42" y1="378.45" x2="363.02" y2="378.45" stroke="#e3262c" stroke-width="1.8"/>
<line x1="359.42" y1="402.99" x2="363.02" y2="402.99" stroke="#e3262c" stroke-width="1.8"/>
<circle cx="361.22" cy="390.72" r="1.9" fill="#e3262c"/>
<line x1="354.17" y1="375.61" x2="354.17" y2="410.79" stroke="#e3262c" stroke-width="1.5"/>
<line x1="352.37" y1="375.61" x2="355.97" y2="375.61" stroke="#e3262c" stroke-width="1.8"/>
<line x1="352.37" y1="410.79" x2="355.97" y2="410.79" stroke="#e3262c" stroke-width="1.8"/>
<circle cx="354.17" cy="393.20" r="1.9" fill="#e3262c"/>
<polyline points="354.17,388.84 354.77,388.84 355.36,388.84 355.95,388.84 356.54,388.84 357.13,388.84 357.72,388.84 358.31,388.84 358.90,388.84 359.49,388.84 360.09,388.84 360.68,388.84 361.27,388.84 361.86,388.84 362.45,388.84 363.04,388.84 363.63,388.84 364.22,388.84 364.82,388.84 365.41,388.84 366.00,388.84 366.59,388.84 367.18,388.84 367.77,388.84 368.36,388.84 368.95,388.84 369.55,388.84 370.14,388.84 370.73,388.84 371.32,388.84 371.91,388.84 372.50,388.84 373.09,388.84 373.68,388.84 374.27,388.84 374.87,388.84 375.46,388.84 376.05,388.84 376.64,388.84 377.23,388.84 377.82,388.84 378.41,388.84 379.00,388.84 379.60,388.84 380.19,388.84 380.78,388.84 381.37,388.84 381.96,388.84 382.55,388.84 383.14,388.84 383.73,388.84 384.33,388.84 384.92,388.84 385.51,388.84 386.10,388.84 386.69,388.84 387.28,388.84 387.87,388.84 388.46,388.84 389.05,388.84 389.65,388.84 390.24,388.84 390.83,388.84 391.42,388.84 392.01,388.84 392.60,388.84 393.19,388.84 393.78,388.84 394.38,388.84 394.97,388.84 395.56,388.84 396.15,388.84 396.74,388.84 397.33,388.84 397.92,388.84 398.51,388.84 399.11,388.84 399.70,388.84 400.29,388.84 400.88,388.84 401.47,388.84 402.06,388.84 402.65,388.84 403.24,388.84 403.83,388.84 404.43,388.84 405.02,388.84 405.61,388.84 406.20,388.84 406.79,388.83 407.38,388.83 407.97,388.83 408.56,388.82 409.16,388.82 409.75,388.81 410.34,388.80 410.93,388.78 411.52,388.76 412.11,388.73 412.70,388.69 413.29,388.63 413.89,388.55 414.48,388.45 415.07,388.30 415.66,388.11 416.25,387.84 416.84,387.47 417.43,386.98 418.02,386.31 418.61,385.41 419.21,384.20 419.80,382.60 420.39,380.48 420.98,377.72 421.57,374.18 422.16,369.74 422.75,364.31 423.34,357.87 423.94,350.50 424.53,342.44 425.12,334.01 425.71,325.61 426.30,317.63 426.89,310.40 427.48,304.11 428.07,298.82 428.67,294.53 429.26,291.11 429.85,288.46 430.44,286.43 431.03,284.89 431.62,283.73 432.21,282.87 432.80,282.23 433.39,281.76 433.99,281.41 434.58,281.15 435.17,280.97 435.76,280.83 436.35,280.73 436.94,280.65 437.53,280.60 438.12,280.56 438.72,280.53 439.31,280.51 439.90,280.50 440.49,280.48 441.08,280.48 441.67,280.47 442.26,280.47 442.85,280.46 443.45,280.46 444.04,280.46 444.63,280.46 445.22,280.46 445.81,280.46 446.40,280.45 446.99,280.45 447.58,280.45 448.17,280.45 448.77,280.45 449.36,280.45 449.95,280.45 450.54,280.45 451.13,280.45 451.72,280.45 452.31,280.45 452.90,280.45 453.50,280.45 454.09,280.45 454.68,280.45 455.27,280.45 455.86,280.45 456.45,280.45 457.04,280.45 457.63,280.45 458.23,280.45 458.82,280.45 459.41,280.45 460.00,280.45 460.59,280.45 461.18,280.45 461.77,280.45 462.36,280.45 462.95,280.45 463.55,280.45 464.14,280.45 464.73,280.45 465.32,280.45 465.91,280.45 466.50,280.45 467.09,280.45 467.68,280.45 468.28,280.45 468.87,280.45 469.46,280.45 470.05,280.45 470.64,280.45 471.23,280.45 471.82,280.45 472.41,280.45 473.01,280.45 473.60,280.45 474.19,280.45 474.78,280.45 475.37,280.45 475.96,280.45 476.55,280.45 477.14,280.45 477.73,280.45 478.33,280.45 478.92,280.45 479.51,280.45 480.10,280.45 480.69,280.45 481.28,280.45 481.87,280.45 482.46,280.45 483.06,280.45 483.65,280.45 484.24,280.45 484.83,280.45 485.42,280.45 486.01,280.45 486.60,280.45 487.19,280.45 487.79,280.45 488.38,280.45 488.97,280.45 489.56,280.45 490.15,280.45 490.74,280.45 491.33,280.45 491.92,280.45 492.51,280.45 493.11,280.45 493.70,280.45 494.29,280.45 494.88,280.45 495.47,280.45 496.06,280.45 496.65,280.45 497.24,280.45 497.84,280.45 498.43,280.45 499.02,280.45 499.61,280.45 500.20,280.45 500.79,280.45 501.38,280.45 501.97,280.45" fill="none" stroke="#e3262c" stroke-width="1.7"/>
</svg></body></html>
